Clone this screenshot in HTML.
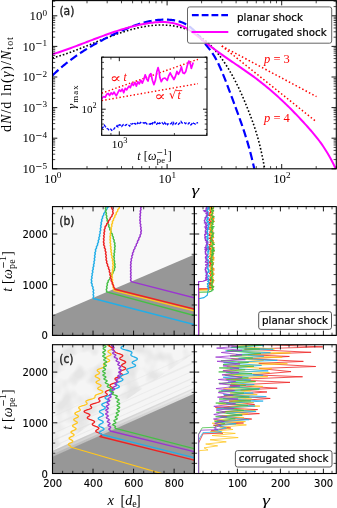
<!DOCTYPE html>
<html><head><meta charset="utf-8"><title>Particle spectra and trajectories</title>
<style>
html,body{margin:0;padding:0;background:#fff;}
body{width:337px;height:508px;overflow:hidden;}
svg{display:block;}
</style></head><body>
<svg width="337" height="508" viewBox="0 0 337 508">
<rect x="0" y="0" width="337" height="508" fill="#fff"/>

<g clip-path="url(#clipA)">
<defs><clipPath id="clipA"><rect x="52.5" y="0.6" width="283.8" height="168.20000000000002"/></clipPath></defs>
<line x1="221.8" y1="46" x2="316.5" y2="96.6" stroke="#ff0000" stroke-width="1.5" stroke-dasharray="1.5 2.3" />
<line x1="221.8" y1="46" x2="316.5" y2="121.9" stroke="#ff0000" stroke-width="1.5" stroke-dasharray="1.5 2.3" />
<polyline fill="none" stroke="#000" stroke-width="1.6" stroke-dasharray="1.6 2.0" points="52.5,58.06 53.57,57.76 54.63,57.45 55.7,57.14 56.77,56.82 57.83,56.49 58.9,56.16 59.97,55.82 61.03,55.48 62.1,55.13 63.17,54.77 64.24,54.41 65.3,54.04 66.37,53.67 67.44,53.29 68.5,52.91 69.57,52.53 70.64,52.14 71.7,51.74 72.77,51.34 73.84,50.94 74.9,50.54 75.97,50.13 77.04,49.72 78.1,49.3 79.17,48.89 80.24,48.47 81.3,48.05 82.37,47.62 83.44,47.2 84.51,46.77 85.57,46.34 86.64,45.91 87.71,45.48 88.77,45.05 89.84,44.62 90.91,44.19 91.97,43.76 93.04,43.33 94.11,42.89 95.17,42.46 96.24,42.03 97.31,41.6 98.37,41.17 99.44,40.74 100.51,40.32 101.57,39.89 102.64,39.47 103.71,39.05 104.77,38.63 105.84,38.22 106.91,37.8 107.98,37.39 109.04,36.99 110.11,36.58 111.18,36.18 112.24,35.78 113.31,35.39 114.38,35 115.44,34.62 116.51,34.24 117.58,33.86 118.64,33.49 119.71,33.13 120.78,32.77 121.84,32.41 122.91,32.06 123.98,31.72 125.04,31.38 126.11,31.05 127.18,30.73 128.25,30.41 129.31,30.1 130.38,29.8 131.45,29.5 132.51,29.21 133.58,28.93 134.65,28.66 135.71,28.4 136.78,28.14 137.85,27.89 138.91,27.65 139.98,27.43 141.05,27.2 142.11,26.99 143.18,26.79 144.25,26.6 145.31,26.42 146.38,26.25 147.45,26.08 148.52,25.93 149.58,25.79 150.65,25.67 151.72,25.55 152.78,25.44 153.85,25.35 154.92,25.26 155.98,25.19 157.05,25.13 158.12,25.09 159.18,25.05 160.25,25.03 161.32,25.02 162.38,25.03 163.45,25.05 164.52,25.08 165.58,25.13 166.65,25.19 167.72,25.26 168.78,25.35 169.85,25.46 170.92,25.57 171.99,25.71 173.05,25.86 174.12,26.02 175.19,26.2 176.25,26.4 177.32,26.62 178.39,26.85 179.45,27.11 180.52,27.38 181.59,27.68 182.65,27.99 183.72,28.32 184.79,28.68 185.85,29.06 186.92,29.46 187.99,29.89 189.05,30.34 190.12,30.81 191.19,31.31 192.26,31.83 193.32,32.38 194.39,32.96 195.46,33.57 196.52,34.2 197.59,34.86 198.66,35.55 199.72,36.27 200.79,37.02 201.86,37.8 202.92,38.61 203.99,39.45 205.06,40.33 206.12,41.24 207.19,42.18 208.26,43.15 209.32,44.16 210.39,45.21 211.46,46.29 212.53,47.41 213.59,48.56 214.66,49.75 215.73,50.98 216.79,52.25 217.86,53.56 218.93,54.91 219.99,56.29 221.06,57.72 222.13,59.19 223.19,60.7 224.26,62.26 225.33,63.85 226.39,65.5 227.46,67.19 228.53,68.92 229.59,70.7 230.66,72.53 231.73,74.41 232.79,76.34 233.86,78.32 234.93,80.35 236,82.44 237.06,84.57 238.13,86.76 239.2,89.01 240.26,91.31 241.33,93.67 242.4,96.08 243.46,98.55 244.53,101.07 245.6,103.64 246.66,106.26 247.73,108.92 248.8,111.62 249.86,114.37 250.93,117.15 252,120 253.06,122.95 254.13,126.01 255.2,129.23 256.27,132.62 257.33,136.21 258.4,140.04 259.47,144.12 260.53,148.5 261.6,153.19 262.67,158.22 263.73,163.62 264.8,169.43"/>
<polyline fill="none" stroke="#0000ff" stroke-width="2.2" stroke-dasharray="8.2 3.6" points="52.5,75.39 53.52,74.42 54.53,73.47 55.55,72.52 56.56,71.59 57.58,70.67 58.59,69.77 59.61,68.87 60.62,67.99 61.64,67.12 62.65,66.27 63.67,65.42 64.68,64.59 65.7,63.76 66.71,62.95 67.73,62.15 68.74,61.36 69.76,60.58 70.77,59.81 71.79,59.05 72.8,58.3 73.82,57.56 74.83,56.83 75.85,56.11 76.86,55.4 77.88,54.7 78.89,54.01 79.91,53.33 80.92,52.65 81.94,51.99 82.95,51.33 83.97,50.68 84.98,50.04 86,49.4 87.01,48.78 88.03,48.16 89.04,47.54 90.06,46.94 91.07,46.34 92.09,45.75 93.1,45.16 94.12,44.59 95.13,44.01 96.15,43.45 97.16,42.89 98.18,42.33 99.19,41.78 100.21,41.24 101.22,40.7 102.24,40.17 103.25,39.64 104.27,39.11 105.28,38.59 106.3,38.08 107.31,37.56 108.33,37.06 109.34,36.55 110.36,36.05 111.37,35.55 112.39,35.06 113.4,34.57 114.42,34.08 115.43,33.6 116.45,33.12 117.46,32.64 118.48,32.17 119.49,31.71 120.51,31.25 121.53,30.79 122.54,30.34 123.56,29.9 124.57,29.46 125.59,29.03 126.6,28.61 127.62,28.19 128.63,27.78 129.65,27.37 130.66,26.98 131.68,26.59 132.69,26.21 133.71,25.84 134.72,25.47 135.74,25.12 136.75,24.77 137.77,24.43 138.78,24.1 139.8,23.79 140.81,23.48 141.83,23.18 142.84,22.89 143.86,22.61 144.87,22.34 145.89,22.09 146.9,21.84 147.92,21.61 148.93,21.39 149.95,21.18 150.96,20.98 151.98,20.8 152.99,20.62 154.01,20.46 155.02,20.32 156.04,20.18 157.05,20.06 158.07,19.96 159.08,19.87 160.1,19.79 161.11,19.73 162.13,19.68 163.14,19.64 164.16,19.63 165.17,19.62 166.19,19.64 167.2,19.67 168.22,19.71 169.23,19.77 170.25,19.85 171.26,19.95 172.28,20.06 173.29,20.19 174.31,20.34 175.32,20.52 176.34,20.72 177.35,20.95 178.37,21.21 179.38,21.51 180.4,21.83 181.41,22.19 182.43,22.59 183.44,23.03 184.46,23.51 185.47,24.04 186.49,24.61 187.51,25.23 188.52,25.91 189.54,26.63 190.55,27.41 191.57,28.24 192.58,29.14 193.6,30.09 194.61,31.11 195.63,32.18 196.64,33.29 197.66,34.44 198.67,35.64 199.69,36.86 200.7,38.11 201.72,39.37 202.73,40.65 203.75,41.94 204.76,43.23 205.78,44.52 206.79,45.79 207.81,47.07 208.82,48.35 209.84,49.65 210.85,51 211.87,52.41 212.88,53.9 213.9,55.48 214.91,57.17 215.93,58.98 216.94,60.9 217.96,62.92 218.97,65.04 219.99,67.25 221,69.54 222.02,71.91 223.03,74.35 224.05,76.85 225.06,79.4 226.08,82.01 227.09,84.65 228.11,87.32 229.12,90.03 230.14,92.75 231.15,95.48 232.17,98.22 233.18,100.96 234.2,103.69 235.21,106.42 236.23,109.15 237.24,111.9 238.26,114.67 239.27,117.47 240.29,120.31 241.3,123.19 242.32,126.13 243.33,129.12 244.35,132.18 245.36,135.33 246.38,138.57 247.39,141.92 248.41,145.4 249.42,149.01 250.44,152.78 251.45,156.71 252.47,160.83 253.48,165.13 254.5,169.64"/>
<polyline fill="none" stroke="#ff00ff" stroke-width="2.0" points="52.5,54.25 53.93,53.81 55.35,53.36 56.78,52.9 58.2,52.43 59.63,51.96 61.06,51.48 62.48,50.99 63.91,50.5 65.34,50 66.76,49.49 68.19,48.98 69.61,48.46 71.04,47.94 72.47,47.42 73.89,46.89 75.32,46.36 76.74,45.83 78.17,45.29 79.6,44.75 81.02,44.21 82.45,43.67 83.87,43.12 85.3,42.58 86.73,42.03 88.15,41.49 89.58,40.94 91.01,40.4 92.43,39.85 93.86,39.31 95.28,38.77 96.71,38.23 98.14,37.69 99.56,37.16 100.99,36.63 102.41,36.1 103.84,35.58 105.27,35.06 106.69,34.54 108.12,34.03 109.55,33.53 110.97,33.03 112.4,32.54 113.82,32.05 115.25,31.57 116.68,31.1 118.1,30.63 119.53,30.18 120.95,29.73 122.38,29.29 123.81,28.86 125.23,28.43 126.66,28.02 128.08,27.62 129.51,27.22 130.94,26.84 132.36,26.47 133.79,26.11 135.22,25.77 136.64,25.43 138.07,25.11 139.49,24.8 140.92,24.5 142.35,24.22 143.77,23.95 145.2,23.69 146.62,23.45 148.05,23.23 149.48,23.02 150.9,22.83 152.33,22.65 153.76,22.49 155.18,22.35 156.61,22.24 158.03,22.14 159.46,22.08 160.89,22.04 162.31,22.03 163.74,22.06 165.16,22.11 166.59,22.21 168.02,22.34 169.44,22.51 170.87,22.72 172.29,22.97 173.72,23.27 175.15,23.61 176.57,24.01 178,24.45 179.43,24.95 180.85,25.5 182.28,26.11 183.7,26.77 185.13,27.5 186.56,28.28 187.98,29.13 189.41,30.05 190.83,31.02 192.26,32.04 193.69,33.09 195.11,34.18 196.54,35.3 197.97,36.43 199.39,37.57 200.82,38.71 202.24,39.84 203.67,40.97 205.1,42.09 206.52,43.2 207.95,44.31 209.37,45.4 210.8,46.5 212.23,47.58 213.65,48.65 215.08,49.72 216.51,50.77 217.93,51.82 219.36,52.86 220.78,53.88 222.21,54.9 223.64,55.91 225.06,56.91 226.49,57.9 227.91,58.89 229.34,59.87 230.77,60.84 232.19,61.82 233.62,62.79 235.04,63.76 236.47,64.73 237.9,65.7 239.32,66.67 240.75,67.64 242.18,68.62 243.6,69.6 245.03,70.59 246.45,71.58 247.88,72.58 249.31,73.59 250.73,74.61 252.16,75.64 253.58,76.68 255.01,77.73 256.44,78.8 257.86,79.88 259.29,80.98 260.72,82.09 262.14,83.21 263.57,84.35 264.99,85.51 266.42,86.68 267.85,87.86 269.27,89.06 270.7,90.28 272.12,91.51 273.55,92.75 274.98,94.01 276.4,95.28 277.83,96.57 279.25,97.88 280.68,99.19 282.11,100.53 283.53,101.87 284.96,103.24 286.39,104.61 287.81,106.01 289.24,107.41 290.66,108.83 292.09,110.27 293.52,111.72 294.94,113.19 296.37,114.67 297.79,116.16 299.22,117.67 300.65,119.19 302.07,120.73 303.5,122.29 304.93,123.85 306.35,125.44 307.78,127.03 309.2,128.65 310.63,130.27 312.06,131.93 313.48,133.61 314.91,135.32 316.33,137.09 317.76,138.9 319.19,140.76 320.61,142.7 322.04,144.7 323.46,146.77 324.89,148.94 326.32,151.19 327.74,153.53 329.17,155.99 330.6,158.55 332.02,161.23 333.45,164.03 334.87,166.96 336.3,170.03"/>
</g>
<text x="264" y="62.9" font-family="'Liberation Serif', 'DejaVu Serif', serif" font-size="12.5" fill="#ff0000"><tspan font-style="italic">p</tspan> = 3</text>
<text x="264" y="122.4" font-family="'Liberation Serif', 'DejaVu Serif', serif" font-size="12.5" fill="#ff0000"><tspan font-style="italic">p</tspan> = 4</text>
<g stroke="#000" fill="none">
<line x1="52.5" y1="168.8" x2="52.5" y2="164" stroke-width="0.9"/>
<line x1="52.5" y1="0.6" x2="52.5" y2="5.4" stroke-width="0.9"/>
<line x1="87" y1="168.8" x2="87" y2="166.1" stroke-width="0.72"/>
<line x1="87" y1="0.6" x2="87" y2="3.3" stroke-width="0.72"/>
<line x1="107.18" y1="168.8" x2="107.18" y2="166.1" stroke-width="0.72"/>
<line x1="107.18" y1="0.6" x2="107.18" y2="3.3" stroke-width="0.72"/>
<line x1="121.5" y1="168.8" x2="121.5" y2="166.1" stroke-width="0.72"/>
<line x1="121.5" y1="0.6" x2="121.5" y2="3.3" stroke-width="0.72"/>
<line x1="132.6" y1="168.8" x2="132.6" y2="166.1" stroke-width="0.72"/>
<line x1="132.6" y1="0.6" x2="132.6" y2="3.3" stroke-width="0.72"/>
<line x1="141.68" y1="168.8" x2="141.68" y2="166.1" stroke-width="0.72"/>
<line x1="141.68" y1="0.6" x2="141.68" y2="3.3" stroke-width="0.72"/>
<line x1="149.35" y1="168.8" x2="149.35" y2="166.1" stroke-width="0.72"/>
<line x1="149.35" y1="0.6" x2="149.35" y2="3.3" stroke-width="0.72"/>
<line x1="155.99" y1="168.8" x2="155.99" y2="166.1" stroke-width="0.72"/>
<line x1="155.99" y1="0.6" x2="155.99" y2="3.3" stroke-width="0.72"/>
<line x1="161.86" y1="168.8" x2="161.86" y2="166.1" stroke-width="0.72"/>
<line x1="161.86" y1="0.6" x2="161.86" y2="3.3" stroke-width="0.72"/>
<line x1="167.1" y1="168.8" x2="167.1" y2="164" stroke-width="0.9"/>
<line x1="167.1" y1="0.6" x2="167.1" y2="5.4" stroke-width="0.9"/>
<line x1="201.6" y1="168.8" x2="201.6" y2="166.1" stroke-width="0.72"/>
<line x1="201.6" y1="0.6" x2="201.6" y2="3.3" stroke-width="0.72"/>
<line x1="221.78" y1="168.8" x2="221.78" y2="166.1" stroke-width="0.72"/>
<line x1="221.78" y1="0.6" x2="221.78" y2="3.3" stroke-width="0.72"/>
<line x1="236.1" y1="168.8" x2="236.1" y2="166.1" stroke-width="0.72"/>
<line x1="236.1" y1="0.6" x2="236.1" y2="3.3" stroke-width="0.72"/>
<line x1="247.2" y1="168.8" x2="247.2" y2="166.1" stroke-width="0.72"/>
<line x1="247.2" y1="0.6" x2="247.2" y2="3.3" stroke-width="0.72"/>
<line x1="256.28" y1="168.8" x2="256.28" y2="166.1" stroke-width="0.72"/>
<line x1="256.28" y1="0.6" x2="256.28" y2="3.3" stroke-width="0.72"/>
<line x1="263.95" y1="168.8" x2="263.95" y2="166.1" stroke-width="0.72"/>
<line x1="263.95" y1="0.6" x2="263.95" y2="3.3" stroke-width="0.72"/>
<line x1="270.59" y1="168.8" x2="270.59" y2="166.1" stroke-width="0.72"/>
<line x1="270.59" y1="0.6" x2="270.59" y2="3.3" stroke-width="0.72"/>
<line x1="276.46" y1="168.8" x2="276.46" y2="166.1" stroke-width="0.72"/>
<line x1="276.46" y1="0.6" x2="276.46" y2="3.3" stroke-width="0.72"/>
<line x1="281.7" y1="168.8" x2="281.7" y2="164" stroke-width="0.9"/>
<line x1="281.7" y1="0.6" x2="281.7" y2="5.4" stroke-width="0.9"/>
<line x1="316.2" y1="168.8" x2="316.2" y2="166.1" stroke-width="0.72"/>
<line x1="316.2" y1="0.6" x2="316.2" y2="3.3" stroke-width="0.72"/>
<line x1="336.38" y1="168.8" x2="336.38" y2="166.1" stroke-width="0.72"/>
<line x1="336.38" y1="0.6" x2="336.38" y2="3.3" stroke-width="0.72"/>
<line x1="52.5" y1="168.8" x2="57.3" y2="168.8" stroke-width="0.9"/>
<line x1="336.3" y1="168.8" x2="331.5" y2="168.8" stroke-width="0.9"/>
<line x1="52.5" y1="159.59" x2="55.2" y2="159.59" stroke-width="0.72"/>
<line x1="336.3" y1="159.59" x2="333.6" y2="159.59" stroke-width="0.72"/>
<line x1="52.5" y1="154.2" x2="55.2" y2="154.2" stroke-width="0.72"/>
<line x1="336.3" y1="154.2" x2="333.6" y2="154.2" stroke-width="0.72"/>
<line x1="52.5" y1="150.38" x2="55.2" y2="150.38" stroke-width="0.72"/>
<line x1="336.3" y1="150.38" x2="333.6" y2="150.38" stroke-width="0.72"/>
<line x1="52.5" y1="147.41" x2="55.2" y2="147.41" stroke-width="0.72"/>
<line x1="336.3" y1="147.41" x2="333.6" y2="147.41" stroke-width="0.72"/>
<line x1="52.5" y1="144.99" x2="55.2" y2="144.99" stroke-width="0.72"/>
<line x1="336.3" y1="144.99" x2="333.6" y2="144.99" stroke-width="0.72"/>
<line x1="52.5" y1="142.94" x2="55.2" y2="142.94" stroke-width="0.72"/>
<line x1="336.3" y1="142.94" x2="333.6" y2="142.94" stroke-width="0.72"/>
<line x1="52.5" y1="141.17" x2="55.2" y2="141.17" stroke-width="0.72"/>
<line x1="336.3" y1="141.17" x2="333.6" y2="141.17" stroke-width="0.72"/>
<line x1="52.5" y1="139.6" x2="55.2" y2="139.6" stroke-width="0.72"/>
<line x1="336.3" y1="139.6" x2="333.6" y2="139.6" stroke-width="0.72"/>
<line x1="52.5" y1="138.2" x2="57.3" y2="138.2" stroke-width="0.9"/>
<line x1="336.3" y1="138.2" x2="331.5" y2="138.2" stroke-width="0.9"/>
<line x1="52.5" y1="128.99" x2="55.2" y2="128.99" stroke-width="0.72"/>
<line x1="336.3" y1="128.99" x2="333.6" y2="128.99" stroke-width="0.72"/>
<line x1="52.5" y1="123.6" x2="55.2" y2="123.6" stroke-width="0.72"/>
<line x1="336.3" y1="123.6" x2="333.6" y2="123.6" stroke-width="0.72"/>
<line x1="52.5" y1="119.78" x2="55.2" y2="119.78" stroke-width="0.72"/>
<line x1="336.3" y1="119.78" x2="333.6" y2="119.78" stroke-width="0.72"/>
<line x1="52.5" y1="116.81" x2="55.2" y2="116.81" stroke-width="0.72"/>
<line x1="336.3" y1="116.81" x2="333.6" y2="116.81" stroke-width="0.72"/>
<line x1="52.5" y1="114.39" x2="55.2" y2="114.39" stroke-width="0.72"/>
<line x1="336.3" y1="114.39" x2="333.6" y2="114.39" stroke-width="0.72"/>
<line x1="52.5" y1="112.34" x2="55.2" y2="112.34" stroke-width="0.72"/>
<line x1="336.3" y1="112.34" x2="333.6" y2="112.34" stroke-width="0.72"/>
<line x1="52.5" y1="110.57" x2="55.2" y2="110.57" stroke-width="0.72"/>
<line x1="336.3" y1="110.57" x2="333.6" y2="110.57" stroke-width="0.72"/>
<line x1="52.5" y1="109" x2="55.2" y2="109" stroke-width="0.72"/>
<line x1="336.3" y1="109" x2="333.6" y2="109" stroke-width="0.72"/>
<line x1="52.5" y1="107.6" x2="57.3" y2="107.6" stroke-width="0.9"/>
<line x1="336.3" y1="107.6" x2="331.5" y2="107.6" stroke-width="0.9"/>
<line x1="52.5" y1="98.39" x2="55.2" y2="98.39" stroke-width="0.72"/>
<line x1="336.3" y1="98.39" x2="333.6" y2="98.39" stroke-width="0.72"/>
<line x1="52.5" y1="93" x2="55.2" y2="93" stroke-width="0.72"/>
<line x1="336.3" y1="93" x2="333.6" y2="93" stroke-width="0.72"/>
<line x1="52.5" y1="89.18" x2="55.2" y2="89.18" stroke-width="0.72"/>
<line x1="336.3" y1="89.18" x2="333.6" y2="89.18" stroke-width="0.72"/>
<line x1="52.5" y1="86.21" x2="55.2" y2="86.21" stroke-width="0.72"/>
<line x1="336.3" y1="86.21" x2="333.6" y2="86.21" stroke-width="0.72"/>
<line x1="52.5" y1="83.79" x2="55.2" y2="83.79" stroke-width="0.72"/>
<line x1="336.3" y1="83.79" x2="333.6" y2="83.79" stroke-width="0.72"/>
<line x1="52.5" y1="81.74" x2="55.2" y2="81.74" stroke-width="0.72"/>
<line x1="336.3" y1="81.74" x2="333.6" y2="81.74" stroke-width="0.72"/>
<line x1="52.5" y1="79.97" x2="55.2" y2="79.97" stroke-width="0.72"/>
<line x1="336.3" y1="79.97" x2="333.6" y2="79.97" stroke-width="0.72"/>
<line x1="52.5" y1="78.4" x2="55.2" y2="78.4" stroke-width="0.72"/>
<line x1="336.3" y1="78.4" x2="333.6" y2="78.4" stroke-width="0.72"/>
<line x1="52.5" y1="77" x2="57.3" y2="77" stroke-width="0.9"/>
<line x1="336.3" y1="77" x2="331.5" y2="77" stroke-width="0.9"/>
<line x1="52.5" y1="67.79" x2="55.2" y2="67.79" stroke-width="0.72"/>
<line x1="336.3" y1="67.79" x2="333.6" y2="67.79" stroke-width="0.72"/>
<line x1="52.5" y1="62.4" x2="55.2" y2="62.4" stroke-width="0.72"/>
<line x1="336.3" y1="62.4" x2="333.6" y2="62.4" stroke-width="0.72"/>
<line x1="52.5" y1="58.58" x2="55.2" y2="58.58" stroke-width="0.72"/>
<line x1="336.3" y1="58.58" x2="333.6" y2="58.58" stroke-width="0.72"/>
<line x1="52.5" y1="55.61" x2="55.2" y2="55.61" stroke-width="0.72"/>
<line x1="336.3" y1="55.61" x2="333.6" y2="55.61" stroke-width="0.72"/>
<line x1="52.5" y1="53.19" x2="55.2" y2="53.19" stroke-width="0.72"/>
<line x1="336.3" y1="53.19" x2="333.6" y2="53.19" stroke-width="0.72"/>
<line x1="52.5" y1="51.14" x2="55.2" y2="51.14" stroke-width="0.72"/>
<line x1="336.3" y1="51.14" x2="333.6" y2="51.14" stroke-width="0.72"/>
<line x1="52.5" y1="49.37" x2="55.2" y2="49.37" stroke-width="0.72"/>
<line x1="336.3" y1="49.37" x2="333.6" y2="49.37" stroke-width="0.72"/>
<line x1="52.5" y1="47.8" x2="55.2" y2="47.8" stroke-width="0.72"/>
<line x1="336.3" y1="47.8" x2="333.6" y2="47.8" stroke-width="0.72"/>
<line x1="52.5" y1="46.4" x2="57.3" y2="46.4" stroke-width="0.9"/>
<line x1="336.3" y1="46.4" x2="331.5" y2="46.4" stroke-width="0.9"/>
<line x1="52.5" y1="37.19" x2="55.2" y2="37.19" stroke-width="0.72"/>
<line x1="336.3" y1="37.19" x2="333.6" y2="37.19" stroke-width="0.72"/>
<line x1="52.5" y1="31.8" x2="55.2" y2="31.8" stroke-width="0.72"/>
<line x1="336.3" y1="31.8" x2="333.6" y2="31.8" stroke-width="0.72"/>
<line x1="52.5" y1="27.98" x2="55.2" y2="27.98" stroke-width="0.72"/>
<line x1="336.3" y1="27.98" x2="333.6" y2="27.98" stroke-width="0.72"/>
<line x1="52.5" y1="25.01" x2="55.2" y2="25.01" stroke-width="0.72"/>
<line x1="336.3" y1="25.01" x2="333.6" y2="25.01" stroke-width="0.72"/>
<line x1="52.5" y1="22.59" x2="55.2" y2="22.59" stroke-width="0.72"/>
<line x1="336.3" y1="22.59" x2="333.6" y2="22.59" stroke-width="0.72"/>
<line x1="52.5" y1="20.54" x2="55.2" y2="20.54" stroke-width="0.72"/>
<line x1="336.3" y1="20.54" x2="333.6" y2="20.54" stroke-width="0.72"/>
<line x1="52.5" y1="18.77" x2="55.2" y2="18.77" stroke-width="0.72"/>
<line x1="336.3" y1="18.77" x2="333.6" y2="18.77" stroke-width="0.72"/>
<line x1="52.5" y1="17.2" x2="55.2" y2="17.2" stroke-width="0.72"/>
<line x1="336.3" y1="17.2" x2="333.6" y2="17.2" stroke-width="0.72"/>
<line x1="52.5" y1="15.8" x2="57.3" y2="15.8" stroke-width="0.9"/>
<line x1="336.3" y1="15.8" x2="331.5" y2="15.8" stroke-width="0.9"/>
<line x1="52.5" y1="6.59" x2="55.2" y2="6.59" stroke-width="0.72"/>
<line x1="336.3" y1="6.59" x2="333.6" y2="6.59" stroke-width="0.72"/>
<line x1="52.5" y1="1.2" x2="55.2" y2="1.2" stroke-width="0.72"/>
<line x1="336.3" y1="1.2" x2="333.6" y2="1.2" stroke-width="0.72"/>
<rect x="52.5" y="0.6" width="283.8" height="168.2" stroke-width="1.1"/>
</g>
<rect x="187.5" y="6.9" width="144.2" height="36.3" rx="2.2" fill="#fff" fill-opacity="0.8" stroke="#555" stroke-width="0.9"/>
<line x1="191.9" y1="15.2" x2="228" y2="15.2" stroke="#0000ff" stroke-width="2.2" stroke-dasharray="6.8 3"/>
<line x1="191.5" y1="32" x2="228.3" y2="32" stroke="#ff00ff" stroke-width="1.9"/>
<text x="237" y="20.5" font-family="'DejaVu Sans', 'Liberation Sans', sans-serif" font-size="10.3" fill="#000" stroke="#000" stroke-width="0.2">planar shock</text>
<text x="237" y="36.4" font-family="'DejaVu Sans', 'Liberation Sans', sans-serif" font-size="10.3" fill="#000" stroke="#000" stroke-width="0.2">corrugated shock</text>
<text transform="translate(59.4,15.4) scale(0.9,1)" font-family="'DejaVu Sans', 'Liberation Sans', sans-serif" font-size="12" fill="#222" stroke="#222" stroke-width="0.35">(a)</text>
<text x="47" y="20" font-family="'Liberation Serif', 'DejaVu Serif', serif" font-size="12.8" text-anchor="end" fill="#000">10<tspan font-size="9.2" dy="-4.5">0</tspan></text>
<text x="47" y="50.6" font-family="'Liberation Serif', 'DejaVu Serif', serif" font-size="12.8" text-anchor="end" fill="#000">10<tspan font-size="9.2" dy="-4.5"><tspan font-family="DejaVu Sans, sans-serif" font-size="8.6">−</tspan>1</tspan></text>
<text x="47" y="81.2" font-family="'Liberation Serif', 'DejaVu Serif', serif" font-size="12.8" text-anchor="end" fill="#000">10<tspan font-size="9.2" dy="-4.5"><tspan font-family="DejaVu Sans, sans-serif" font-size="8.6">−</tspan>2</tspan></text>
<text x="47" y="111.8" font-family="'Liberation Serif', 'DejaVu Serif', serif" font-size="12.8" text-anchor="end" fill="#000">10<tspan font-size="9.2" dy="-4.5"><tspan font-family="DejaVu Sans, sans-serif" font-size="8.6">−</tspan>3</tspan></text>
<text x="47" y="142.4" font-family="'Liberation Serif', 'DejaVu Serif', serif" font-size="12.8" text-anchor="end" fill="#000">10<tspan font-size="9.2" dy="-4.5"><tspan font-family="DejaVu Sans, sans-serif" font-size="8.6">−</tspan>4</tspan></text>
<text x="47" y="173" font-family="'Liberation Serif', 'DejaVu Serif', serif" font-size="12.8" text-anchor="end" fill="#000">10<tspan font-size="9.2" dy="-4.5"><tspan font-family="DejaVu Sans, sans-serif" font-size="8.6">−</tspan>5</tspan></text>
<text x="52.7" y="182.8" font-family="'Liberation Serif', 'DejaVu Serif', serif" font-size="12.8" text-anchor="middle" fill="#000">10<tspan font-size="9.2" dy="-4.5">0</tspan></text>
<text x="167.3" y="182.8" font-family="'Liberation Serif', 'DejaVu Serif', serif" font-size="12.8" text-anchor="middle" fill="#000">10<tspan font-size="9.2" dy="-4.5">1</tspan></text>
<text x="281.9" y="182.8" font-family="'Liberation Serif', 'DejaVu Serif', serif" font-size="12.8" text-anchor="middle" fill="#000">10<tspan font-size="9.2" dy="-4.5">2</tspan></text>
<text transform="translate(195.3,194.8) scale(1.4,1)" font-family="'Liberation Serif', 'DejaVu Serif', serif" font-size="14" font-style="italic" text-anchor="middle">γ</text>
<text transform="translate(10.6,84.6) rotate(-90)" font-family="'Liberation Serif', 'DejaVu Serif', serif" font-size="14.2" text-anchor="middle" textLength="95" lengthAdjust="spacing">d<tspan font-style="italic">N</tspan>/d ln(<tspan font-style="italic">γ</tspan>)/<tspan font-style="italic">N</tspan><tspan font-size="10" dy="2.8">tot</tspan></text>
<rect x="101.7" y="57.2" width="105.3" height="78.1" fill="#fff"/>
<g clip-path="url(#clipI)">
<defs><clipPath id="clipI"><rect x="101.7" y="57.2" width="105.3" height="78.1"/></clipPath></defs>
<line x1="101.7" y1="93.2" x2="198" y2="59.3" stroke="#ff0000" stroke-width="1.4" stroke-dasharray="1.4 2.2"/>
<line x1="101.7" y1="100.6" x2="198" y2="83.65" stroke="#ff0000" stroke-width="1.4" stroke-dasharray="1.4 2.2"/>
<polyline fill="none" stroke="#ff00ff" stroke-width="1.7" stroke-linejoin="round" points="101.8,99.2 102.2,98 103.7,96.5 105.2,97.3 106.7,94.3 108.2,93.5 109.6,95.5 111.1,92.8 112.6,94.3 114.1,92.1 114.8,93.5 116.3,95.8 117.8,92.8 119.3,89.8 120.8,91.3 122.3,89.1 123.7,92.8 125.2,88.4 126.7,89.8 128.9,86.1 130.4,87.6 131.9,83.2 133.4,85.4 134.9,82.4 136.4,86.1 137.8,81.7 139.3,83.9 140.8,80.2 142.3,83.2 143.8,79.5 145.2,74.8 146.5,78.8 148,81 149.5,75.1 150.9,73.6 152.4,80.3 153.9,84.7 155.4,80.3 156.9,71.4 158.1,67.6 159.1,71.4 159.8,77.3 161.3,81.7 162.8,78.8 165,78 167.3,80.3 168.7,75.8 170.2,72.8 171.7,75.8 173.9,79.5 175.4,76.5 176.9,71.4 178.4,74.3 179.9,71.4 181.4,66.9 182.8,72.8 184.3,73.6 185.8,71.4 187.3,65.4 188.8,61 190.3,63.9 191.3,68.4 192.5,64.7 193.2,62.5"/>
<polyline fill="none" stroke="#0000ff" stroke-width="1.3" stroke-dasharray="3 1.2" points="101.8,129.02 102.7,127.34 103.6,126.76 104.5,125.3 105.4,126.61 106.3,127.53 107.2,128.59 108.1,128.94 109,129.95 109.9,129.86 110.8,129.12 111.7,130.29 112.6,129.8 113.5,129.84 114.4,128.18 115.3,127.42 116.2,126.83 117.1,125.62 118,126.93 118.9,125.11 119.8,124.83 120.7,125.37 121.6,126.43 122.5,125.45 123.4,124.47 124.3,124.61 125.2,125.47 126.1,124.85 127,124.35 127.9,124.66 128.8,125.27 129.7,126.06 130.6,123.72 131.5,124.06 132.4,123.85 133.3,122.63 134.2,123.58 135.1,123.42 136,124.83 136.9,123.86 137.8,122.73 138.7,124.23 139.6,123.45 140.5,122.4 141.4,123.12 142.3,123.06 143.2,122.8 144.1,123.37 145,121.73 145.9,123.08 146.8,123.94 147.7,123.81 148.6,123.98 149.5,123.98 150.4,124.24 151.3,122.43 152.2,123.81 153.1,121.92 154,122.81 154.9,121.91 155.8,124 156.7,124.21 157.6,123.15 158.5,124.55 159.4,122.85 160.3,123.44 161.2,123.46 162.1,122.62 163,123.68 163.9,124.74 164.8,122.68 165.7,124.03 166.6,123.3 167.5,124.66 168.4,123.76 169.3,123.91 170.2,123.89 171.1,123.62 172,122.48 172.9,124.44 173.8,122.51 174.7,123.64 175.6,123.91 176.5,122.9 177.4,123.59 178.3,124.31 179.2,123.48 180.1,122.88 181,121.46 181.9,122.82 182.8,123.08 183.7,123.13 184.6,122.82 185.5,123.74 186.4,123.07 187.3,123.38 188.2,123.92 189.1,122.83 190,123.2 190.9,124.9 191.8,123.98 192.7,122.44 193.6,123.27 194.5,123.7 195.4,124.14 196.3,123.36 197.2,122.85 198.1,122.69"/>
</g>
<text transform="translate(109.9,82.6) scale(1.18,1)" font-family="DejaVu Serif, serif" font-size="14" fill="#ff0000">∝</text>
<text x="123.6" y="80.6" font-family="'Liberation Serif', 'DejaVu Serif', serif" font-style="italic" font-size="11.5" fill="#ff0000">t</text>
<text transform="translate(154.4,100.8) scale(1.18,1)" font-family="DejaVu Serif, serif" font-size="14" fill="#ff0000">∝</text>
<text x="169" y="99.2" font-family="DejaVu Sans, sans-serif" font-size="11.5" fill="#ff0000">√</text>
<text x="177.4" y="98.7" font-family="'Liberation Serif', 'DejaVu Serif', serif" font-style="italic" font-size="11.5" fill="#ff0000">t</text>
<line x1="175.6" y1="90.6" x2="182.2" y2="90.6" stroke="#ff0000" stroke-width="0.8"/>
<g stroke="#000" fill="none">
<line x1="101.57" y1="135.3" x2="101.57" y2="133" stroke-width="0.72"/>
<line x1="101.57" y1="57.2" x2="101.57" y2="59.5" stroke-width="0.72"/>
<line x1="110.93" y1="135.3" x2="110.93" y2="133" stroke-width="0.72"/>
<line x1="110.93" y1="57.2" x2="110.93" y2="59.5" stroke-width="0.72"/>
<line x1="119.3" y1="135.3" x2="119.3" y2="131.3" stroke-width="0.9"/>
<line x1="119.3" y1="57.2" x2="119.3" y2="61.2" stroke-width="0.9"/>
<line x1="174.39" y1="135.3" x2="174.39" y2="133" stroke-width="0.72"/>
<line x1="174.39" y1="57.2" x2="174.39" y2="59.5" stroke-width="0.72"/>
<line x1="206.61" y1="135.3" x2="206.61" y2="133" stroke-width="0.72"/>
<line x1="206.61" y1="57.2" x2="206.61" y2="59.5" stroke-width="0.72"/>
<line x1="101.7" y1="129.37" x2="104" y2="129.37" stroke-width="0.72"/>
<line x1="207" y1="129.37" x2="204.7" y2="129.37" stroke-width="0.72"/>
<line x1="101.7" y1="124.06" x2="104" y2="124.06" stroke-width="0.72"/>
<line x1="207" y1="124.06" x2="204.7" y2="124.06" stroke-width="0.72"/>
<line x1="101.7" y1="119.58" x2="104" y2="119.58" stroke-width="0.72"/>
<line x1="207" y1="119.58" x2="204.7" y2="119.58" stroke-width="0.72"/>
<line x1="101.7" y1="115.69" x2="104" y2="115.69" stroke-width="0.72"/>
<line x1="207" y1="115.69" x2="204.7" y2="115.69" stroke-width="0.72"/>
<line x1="101.7" y1="112.27" x2="104" y2="112.27" stroke-width="0.72"/>
<line x1="207" y1="112.27" x2="204.7" y2="112.27" stroke-width="0.72"/>
<line x1="101.7" y1="109.2" x2="105.7" y2="109.2" stroke-width="0.9"/>
<line x1="207" y1="109.2" x2="203" y2="109.2" stroke-width="0.9"/>
<line x1="101.7" y1="89.03" x2="104" y2="89.03" stroke-width="0.72"/>
<line x1="207" y1="89.03" x2="204.7" y2="89.03" stroke-width="0.72"/>
<line x1="101.7" y1="77.23" x2="104" y2="77.23" stroke-width="0.72"/>
<line x1="207" y1="77.23" x2="204.7" y2="77.23" stroke-width="0.72"/>
<line x1="101.7" y1="68.86" x2="104" y2="68.86" stroke-width="0.72"/>
<line x1="207" y1="68.86" x2="204.7" y2="68.86" stroke-width="0.72"/>
<line x1="101.7" y1="62.37" x2="104" y2="62.37" stroke-width="0.72"/>
<line x1="207" y1="62.37" x2="204.7" y2="62.37" stroke-width="0.72"/>
<line x1="101.7" y1="57.06" x2="104" y2="57.06" stroke-width="0.72"/>
<line x1="207" y1="57.06" x2="204.7" y2="57.06" stroke-width="0.72"/>
<rect x="101.7" y="57.2" width="105.3" height="78.1" stroke-width="1.1"/>
</g>
<text x="96.6" y="112.6" font-family="'Liberation Serif', 'DejaVu Serif', serif" font-size="11" text-anchor="end" fill="#000">10<tspan font-size="8.2" dy="-4.4">2</tspan></text>
<text x="119.6" y="147.6" font-family="'Liberation Serif', 'DejaVu Serif', serif" font-size="11.3" text-anchor="middle" fill="#000">10<tspan font-size="8.4" dy="-4.4">3</tspan></text>
<text x="154.4" y="160" font-family="'Liberation Serif', 'DejaVu Serif', serif" font-size="12" text-anchor="middle" textLength="34.5" lengthAdjust="spacing"><tspan font-style="italic">t</tspan> [<tspan font-style="italic">ω</tspan><tspan font-size="8.6" dy="2.9">pe</tspan><tspan font-size="8.6" dy="-7.9" dx="-8.8"><tspan font-family="DejaVu Sans, sans-serif" font-size="7.8">−</tspan>1</tspan><tspan dy="5">]</tspan></text>
<text transform="translate(76.0,97.6) rotate(-90)" font-family="'Liberation Serif', 'DejaVu Serif', serif" font-size="12.6" text-anchor="middle" textLength="24.5" lengthAdjust="spacing"><tspan font-style="italic" font-family="DejaVu Serif, serif" font-size="10.2">γ</tspan><tspan font-size="8.8" dy="2.2">max</tspan></text>
<defs><clipPath id="clipLb"><rect x="52.5" y="206.6" width="141.9" height="128.8"/></clipPath></defs>
<g clip-path="url(#clipLb)">
<rect x="52.5" y="206.6" width="141.9" height="128.8" fill="#f8f8f8"/>
<polygon points="51.5,315.72 195.4,254.18 195.4,336.4 51.5,336.4" fill="#979797"/>
</g>
<g clip-path="url(#clipLb)"><polyline fill="none" stroke="#22aee8" stroke-width="1.45" stroke-linejoin="round" points="109.65,205.6 109.24,206.3 108.23,207 107.37,207.7 107.15,208.4 106.94,209.1 106.15,209.8 105.32,210.5 105.14,211.2 105.21,211.9 104.74,212.6 103.93,213.3 103.62,214 103.77,214.7 103.56,215.4 102.83,216.1 102.39,216.8 102.57,217.5 102.61,218.2 102.05,218.9 101.54,219.6 101.68,220.3 101.94,221 101.61,221.7 101.05,222.4 101.06,223.1 101.42,223.8 101.31,224.5 100.76,225.2 100.6,225.9 100.97,226.6 101.06,227.3 100.57,228 100.23,228.7 100.51,229.4 100.76,230.1 100.38,230.8 99.89,231.5 100,232.2 100.33,232.9 100.09,233.6 99.51,234.3 99.4,235 99.74,235.7 99.69,236.4 99.1,237.1 98.79,237.8 99.06,238.5 99.17,239.2 98.66,239.9 98.17,240.6 98.3,241.3 98.53,242 98.15,242.7 97.52,243.4 97.42,244.1 97.66,244.8 97.4,245.5 96.69,246.2 96.36,246.9 96.56,247.6 96.5,248.3 95.86,249 95.4,249.7 95.58,250.4 95.76,251.1 95.34,251.8 94.85,252.5 94.96,253.2 95.32,253.9 95.13,254.6 94.6,255.3 94.55,256 94.95,256.7 94.97,257.4 94.46,258.1 94.22,258.8 94.57,259.5 94.75,260.2 94.31,260.9 93.88,261.6 94.08,262.3 94.37,263 94.05,263.7 93.49,264.4 93.49,265.1 93.83,265.8 93.69,266.5 93.1,267.2 92.89,267.9 93.22,268.6 93.28,269.3 92.75,270 92.38,270.7 92.64,271.4 92.88,272.1 92.49,272.8 92,273.5 92.11,274.2 92.45,274.9 92.23,275.6 91.67,276.3 91.59,277 91.98,277.7 91.98,278.4 91.46,279.1 91.23,279.8 91.61,280.5 91.85,281.2 91.49,281.9 91.21,282.6 91.6,283.3 92.15,284 92.11,284.7 91.87,285.4 92.19,286.1 92.87,286.8 93.06,287.5 92.78,288.2 92.86,288.9 93.44,289.6 93.7,290.3 93.31,291 93.05,291.7 93.41,292.4 93.75,293.1 93.46,293.8 93.06,294.5 93.27,295.2 93.71,295.9 93.59,296.6 93.13,297.3 93.15,298 93.4,298.5 195.4,324.75"/>
<polyline fill="none" stroke="#45bf45" stroke-width="1.45" stroke-linejoin="round" points="105.23,205.6 105.54,206.3 105.94,207 105.75,207.7 105.35,208.4 105.52,209.1 106.04,209.8 106.06,210.5 105.66,211.2 105.67,211.9 106.2,212.6 106.44,213.3 106.11,214 105.95,214.7 106.42,215.4 106.84,216.1 106.64,216.8 106.36,217.5 106.71,218.2 107.29,218.9 107.31,219.6 107.01,220.3 107.21,221 107.86,221.7 108.11,222.4 107.85,223.1 107.89,223.8 108.52,224.5 108.97,225.2 108.82,225.9 108.7,226.6 109.22,227.3 109.84,228 109.87,228.7 109.71,229.4 110.13,230.1 110.89,230.8 111.17,231.5 111.01,232.2 111.26,232.9 112.02,233.6 112.47,234.3 112.32,235 112.32,235.7 112.91,236.4 113.43,237.1 113.32,237.8 113.13,238.5 113.55,239.2 114.18,239.9 114.23,240.6 113.95,241.3 114.15,242 114.76,242.7 114.95,243.4 114.6,244.1 114.52,244.8 114.98,245.5 115.24,246.2 114.86,246.9 114.51,247.6 114.76,248.3 115.09,249 114.8,249.7 114.29,250.4 114.34,251.1 114.71,251.8 114.6,252.5 114.05,253.2 113.91,253.9 114.3,254.6 114.4,255.3 113.94,256 113.66,256.7 114.03,257.4 114.37,258.1 114.11,258.8 113.79,259.5 114.09,260.2 114.61,260.9 114.58,261.6 114.22,262.3 114.35,263 114.91,263.7 115.05,264.4 114.67,265.1 114.55,265.8 115,266.5 115.23,267.2 114.77,267.9 114.29,268.6 114.38,269.3 114.51,270 113.99,270.7 113.23,271.4 113.01,272.1 113.11,272.8 112.7,273.5 111.86,274.2 111.44,274.9 111.55,275.6 111.38,276.3 110.6,277 109.96,277.7 109.9,278.4 109.8,279.1 109.07,279.8 108.27,280.5 108.11,281.2 108.22,281.9 107.82,282.6 107.16,283.3 107.07,284 107.42,284.7 107.37,285.4 106.81,286.1 106.55,286.8 106.88,287.5 107.05,288.2 106.61,288.9 106.23,289.6 106.49,290.3 106.85,291 106.62,291.7 106.5,291.9 195.4,315.75"/>
<polyline fill="none" stroke="#ffc61e" stroke-width="1.45" stroke-linejoin="round" points="120.52,205.6 119.66,206.3 119.31,207 119.39,207.7 119.04,208.4 118.2,209.1 117.69,209.8 117.75,210.5 117.62,211.2 116.89,211.9 116.24,212.6 116.23,213.3 116.28,214 115.72,214.7 114.98,215.4 114.8,216.1 114.93,216.8 114.56,217.5 113.77,218.2 113.42,218.9 113.59,219.6 113.45,220.3 112.76,221 112.29,221.7 112.46,222.4 112.58,223.1 112.11,223.8 111.6,224.5 111.7,225.2 111.99,225.9 111.71,226.6 111.12,227.3 111.05,228 111.4,228.7 111.32,229.4 110.75,230.1 110.51,230.8 110.84,231.5 110.98,232.2 110.51,232.9 110.12,233.6 110.37,234.3 110.69,235 110.4,235.7 109.94,236.4 110.06,237.1 110.49,237.8 110.43,238.5 109.97,239.2 109.94,239.9 110.42,240.6 110.58,241.3 110.19,242 110,242.7 110.44,243.4 110.8,244.1 110.54,244.8 110.23,245.5 110.53,246.2 111.03,246.9 110.95,247.6 110.56,248.3 110.69,249 111.23,249.7 111.35,250.4 110.96,251.1 110.89,251.8 111.4,252.5 111.72,253.2 111.44,253.9 111.25,254.6 111.69,255.3 112.19,256 112.08,256.7 111.78,257.4 112.06,258.1 112.64,258.8 112.71,259.5 112.36,260.2 112.42,260.9 112.97,261.6 113.18,262.3 112.82,263 112.63,263.7 113.04,264.4 113.35,265.1 113.01,265.8 112.6,266.5 112.79,267.2 113.15,267.9 112.93,268.6 112.4,269.3 112.37,270 112.75,270.7 112.71,271.4 112.17,272.1 111.96,272.8 112.33,273.5 112.5,274.2 112.08,274.9 111.75,275.6 112.07,276.3 112.46,277 112.25,277.7 111.86,278.4 112.06,279.1 112.58,279.8 112.59,280.5 112.2,281.2 112.24,281.9 112.79,282.6 113.02,283.3 112.69,284 112.56,284.7 113.04,285.4 113.46,286.1 113.27,286.8 113.05,287.5 113.46,288.2 114.06,288.9 114.1,289.6 113.83,290.3 114.2,290.6 195.4,311.05"/>
<polyline fill="none" stroke="#ee2222" stroke-width="1.45" stroke-linejoin="round" points="109.89,205.6 110.61,206.3 111.56,207 111.91,207.7 111.81,208.4 112.09,209.1 112.79,209.8 113.1,210.5 112.79,211.2 112.64,211.9 113.05,212.6 113.27,213.3 112.76,214 112.11,214.7 112.02,215.4 112.04,216.1 111.43,216.8 110.52,217.5 110.13,218.2 110.16,218.9 109.78,219.6 108.96,220.3 108.45,221 108.48,221.7 108.26,222.4 107.43,223.1 106.69,223.8 106.59,224.5 106.54,225.2 105.9,225.9 105.13,226.6 104.99,227.3 105.19,228 104.93,228.7 104.34,229.4 104.23,230.1 104.61,230.8 104.65,231.5 104.14,232.2 103.86,232.9 104.18,233.6 104.41,234.3 104.03,235 103.61,235.7 103.81,236.4 104.19,237.1 103.98,237.8 103.5,238.5 103.54,239.2 103.98,239.9 103.99,240.6 103.52,241.3 103.39,242 103.83,242.7 104.09,243.4 103.78,244.1 103.6,244.8 104.08,245.5 104.62,246.2 104.55,246.9 104.32,247.6 104.68,248.3 105.33,249 105.44,249.7 105.13,250.4 105.24,251.1 105.8,251.8 106.01,252.5 105.65,253.2 105.5,253.9 105.95,254.6 106.3,255.3 106.02,256 105.71,256.7 106.02,257.4 106.49,258.1 106.39,258.8 106.01,259.5 106.16,260.2 106.72,260.9 106.86,261.6 106.54,262.3 106.59,263 107.23,263.7 107.66,264.4 107.51,265.1 107.46,265.8 108.04,266.5 108.65,267.2 108.64,267.9 108.46,268.6 108.84,269.3 109.49,270 109.59,270.7 109.28,271.4 109.4,272.1 110,272.8 110.25,273.5 109.94,274.2 109.85,274.9 110.36,275.6 110.79,276.3 110.59,277 110.36,277.7 110.77,278.4 111.35,279.1 111.36,279.8 111.11,280.5 111.4,281.2 112.11,281.9 112.39,282.6 112.2,283.3 112.36,284 113.08,284.7 113.59,285.4 113.49,286.1 113.49,286.8 114.1,287.5 114.77,288.2 114.82,288.9 114.9,289.3 195.4,309.25"/>
<polyline fill="none" stroke="#9a35d0" stroke-width="1.45" stroke-linejoin="round" points="141.19,205.6 141.51,206.3 141.29,207 140.71,207.7 140.61,208.4 140.98,209.1 140.99,209.8 140.46,210.5 140.19,211.2 140.53,211.9 140.74,212.6 140.34,213.3 139.94,214 140.18,214.7 140.54,215.4 140.32,216.1 139.85,216.8 139.93,217.5 140.38,218.2 140.37,218.9 139.89,219.6 139.8,220.3 140.27,221 140.49,221.7 140.14,222.4 139.94,223.1 140.37,223.8 140.8,224.5 140.62,225.2 140.31,225.9 140.59,226.6 141.12,227.3 141.11,228 140.71,228.7 140.77,229.4 141.28,230.1 141.4,230.8 140.95,231.5 140.71,232.2 141.02,232.9 141.15,233.6 140.62,234.3 140.05,235 140.08,235.7 140.22,236.4 139.74,237.1 138.99,237.8 138.77,238.5 138.92,239.2 138.6,239.9 137.83,240.6 137.43,241.3 137.6,242 137.52,242.7 136.83,243.4 136.26,244.1 136.3,244.8 136.33,245.5 135.73,246.2 135,246.9 134.86,247.6 134.98,248.3 134.57,249 133.79,249.7 133.5,250.4 133.69,251.1 133.53,251.8 132.86,252.5 132.47,253.2 132.7,253.9 132.81,254.6 132.29,255.3 131.77,256 131.88,256.7 132.13,257.4 131.78,258.1 131.19,258.8 131.15,259.5 131.49,260.2 131.38,260.9 130.81,261.6 130.64,262.3 131.02,263 131.16,263.7 130.73,264.4 130.45,265.1 130.8,265.8 131.15,266.5 130.87,267.2 130.47,267.9 130.66,268.6 131.1,269.3 131,270 130.54,270.7 130.54,271.4 131.01,272.1 131.1,272.8 130.66,273.5 130.47,274.2 130.87,274.9 131.15,275.6 130.8,276.3 130.45,277 130.73,277.7 131.13,278.4 130.94,279.1 130.5,279.8 130.69,280.5 131.35,281.2 131.2,281.6 195.4,298.15"/></g>
<defs><clipPath id="clipLc"><rect x="52.5" y="344.7" width="141.9" height="128.8"/></clipPath></defs>
<g clip-path="url(#clipLc)">
<rect x="52.5" y="344.7" width="141.9" height="128.8" fill="#f5f5f5"/>
<defs><clipPath id="mottle"><polygon points="52.5,344.7 194.4,344.7 194.4,352.7 52.5,450.7"/></clipPath></defs>
<rect x="52.5" y="344.7" width="141.9" height="128.8" filter="url(#turb)" clip-path="url(#mottle)"/>
<line x1="47.5" y1="453.93" x2="199.4" y2="386.17" stroke="#d6d6d6" stroke-opacity="0.55" stroke-width="1.2"/>
<line x1="47.5" y1="448.93" x2="199.4" y2="381.17" stroke="#e2e2e2" stroke-opacity="0.6" stroke-width="1.0"/>
<line x1="47.5" y1="442.93" x2="199.4" y2="375.17" stroke="#e0e0e0" stroke-opacity="0.6" stroke-width="1.3"/>
<line x1="47.5" y1="435.93" x2="199.4" y2="368.17" stroke="#e4e4e4" stroke-opacity="0.5" stroke-width="1.0"/>
<line x1="47.5" y1="427.93" x2="199.4" y2="360.17" stroke="#e2e2e2" stroke-opacity="0.55" stroke-width="1.4"/>
<line x1="47.5" y1="418.93" x2="199.4" y2="351.17" stroke="#e6e6e6" stroke-opacity="0.5" stroke-width="1.0"/>
<defs><linearGradient id="trg" x1="0" y1="0" x2="1" y2="0"><stop offset="0" stop-color="#b0b0b0" stop-opacity="0.9"/><stop offset="0.45" stop-color="#b8b8b8" stop-opacity="0.6"/><stop offset="1" stop-color="#c8c8c8" stop-opacity="0.25"/></linearGradient></defs>
<polygon points="50.5,451.59 196.4,386.51 196.4,393.01 50.5,458.09" fill="url(#trg)" fill-opacity="0.7"/>
<polygon points="50.5,455.09 196.4,390.01 196.4,393.01 50.5,458.09" fill="url(#trg)" fill-opacity="0.8"/>
<polygon points="51.5,457.12 195.4,392.98 195.4,474.5 51.5,474.5" fill="#979797"/>
</g>
<g clip-path="url(#clipLc)"><polyline fill="none" stroke="#ffc61e" stroke-width="1.3" stroke-linejoin="round" points="109.17,343.7 108.55,344.1 108.08,344.5 107.86,344.9 107.94,345.3 108.35,345.7 109.04,346.1 109.9,346.5 110.83,346.9 111.67,347.3 112.31,347.7 112.65,348.1 112.63,348.5 112.28,348.9 111.62,349.3 110.77,349.7 109.85,350.1 109.01,350.5 108.36,350.9 108.01,351.3 107.98,351.7 108.27,352.1 108.8,352.5 109.48,352.9 110.16,353.3 110.72,353.7 111.06,354.1 111.09,354.5 110.79,354.9 110.18,355.3 109.36,355.7 108.43,356.1 107.53,356.5 106.8,356.9 106.33,357.3 106.19,357.7 106.39,358.1 106.88,358.5 107.55,358.9 108.3,359.3 108.98,359.7 109.45,360.1 109.64,360.5 109.48,360.9 108.97,361.3 108.19,361.7 107.22,362.1 106.2,362.5 105.21,362.9 104.37,363.3 103.79,363.7 103.5,364.1 103.5,364.5 103.72,364.9 104.06,365.3 104.39,365.7 104.6,366.1 104.58,366.5 104.25,366.9 103.62,367.3 102.71,367.7 101.63,368.1 100.48,368.5 99.34,368.9 98.36,369.3 97.65,369.7 97.26,370.1 97.22,370.5 97.48,370.9 97.95,371.3 98.52,371.7 99.05,372.1 99.43,372.5 99.55,372.9 99.38,373.3 98.92,373.7 98.24,374.1 97.44,374.5 96.61,374.9 95.88,375.3 95.37,375.7 95.18,376.1 95.33,376.5 95.81,376.9 96.54,377.3 97.41,377.7 98.29,378.1 99.04,378.5 99.55,378.9 99.75,379.3 99.6,379.7 99.15,380.1 98.48,380.5 97.7,380.9 96.96,381.3 96.37,381.7 96.06,382.1 96.08,382.5 96.46,382.9 97.13,383.3 98,383.7 98.95,384.1 99.84,384.5 100.54,384.9 100.96,385.3 101.04,385.7 100.79,386.1 100.27,386.5 99.58,386.9 98.84,387.3 98.2,387.7 97.79,388.1 97.7,388.5 97.95,388.9 98.52,389.3 99.34,389.7 100.3,390.1 101.26,390.5 102.07,390.9 102.63,391.3 102.86,391.7 102.73,392.1 102.26,392.5 101.55,392.9 100.63,393.3 99.48,393.7 98.27,394.1 97.15,394.5 96.24,394.9 95.58,395.3 95.19,395.7 95.02,396.1 94.98,396.5 95,396.9 94.97,397.3 94.69,397.7 94.08,398.1 93.16,398.5 91.98,398.9 90.65,399.3 89.28,399.7 88.03,400.1 87.01,400.5 86.29,400.9 85.93,401.3 85.9,401.7 86.12,402.1 86.48,402.5 86.86,402.9 87.11,403.3 87.11,403.7 86.81,404.1 86.16,404.5 85.19,404.9 83.98,405.3 82.66,405.7 81.37,406.1 80.24,406.5 79.38,406.9 78.86,407.3 78.68,407.7 78.82,408.1 79.17,408.5 79.61,408.9 80.02,409.3 80.27,409.7 80.27,410.1 79.97,410.5 79.39,410.9 78.58,411.3 77.64,411.7 76.67,412.1 75.81,412.5 75.18,412.9 74.85,413.3 74.88,413.7 75.23,414.1 75.84,414.5 76.58,414.9 77.34,415.3 77.97,415.7 78.36,416.1 78.44,416.5 78.17,416.9 77.6,417.3 76.8,417.7 75.9,418.1 75.03,418.5 74.31,418.9 73.86,419.3 73.74,419.7 73.94,420.1 74.44,420.5 75.13,420.9 75.9,421.3 76.6,421.7 77.12,422.1 77.34,422.5 77.24,422.9 76.8,423.3 76.09,423.7 75.21,424.1 74.29,424.5 73.47,424.9 72.86,425.3 72.56,425.7 72.6,426.1 72.96,426.5 73.57,426.9 74.31,427.3 75.05,427.7 75.66,428.1 76.03,428.5 76.07,428.9 75.77,429.3 75.16,429.7 74.31,430.1 73.35,430.5 72.41,430.9 71.63,431.3 71.12,431.7 70.92,432.1 71.07,432.5 71.5,432.9 72.13,433.3 72.83,433.7 73.47,434.1 73.92,434.5 74.09,434.9 73.93,435.3 73.44,435.7 72.69,436.1 71.77,436.5 70.83,436.9 70,437.3 69.39,437.7 69.1,438.1 69.16,438.5 69.54,438.9 70.17,439.3 70.93,439.7 71.71,440.1 72.35,440.5 72.75,440.9 72.83,441.3 72.58,441.7 72.02,442.1 71.24,442.5 70.36,442.9 69.5,443.3 68.82,443.7 68.4,444.1 68.32,444.5 68.57,444.9 69.13,445.3 69.88,445.7 70.71,446.1 70.3,447 163.5,474"/>
<polyline fill="none" stroke="#ee2222" stroke-width="1.3" stroke-linejoin="round" points="111.61,343.7 110.74,344.1 109.95,344.5 109.36,344.9 109.04,345.3 109.05,345.7 109.38,346.1 109.98,346.5 110.78,346.9 111.65,347.3 112.47,347.7 113.12,348.1 113.51,348.5 113.59,348.9 113.57,349.3 113.67,349.7 113.82,350.1 114.02,350.5 114.26,350.9 114.56,351.3 114.88,351.7 115.23,352.1 115.83,352.5 116.71,352.9 117.81,353.3 119.02,353.7 120.22,354.1 121.29,354.5 122.12,354.9 122.63,355.3 122.8,355.7 122.64,356.1 122.2,356.5 121.59,356.9 120.92,357.3 120.31,357.7 119.88,358.1 119.74,358.5 119.92,358.9 120.42,359.3 121.19,359.7 122.14,360.1 123.17,360.5 124.14,360.9 124.94,361.3 125.46,361.7 125.66,362.1 125.53,362.5 125.08,362.9 124.42,363.3 123.63,363.7 122.85,364.1 122.19,364.5 121.75,364.9 121.6,365.3 121.76,365.7 122.21,366.1 122.88,366.5 123.66,366.9 124.44,367.3 125.1,367.7 125.53,368.1 125.65,368.5 125.43,368.9 124.89,369.3 124.08,369.7 123.11,370.1 122.08,370.5 121.12,370.9 120.36,371.3 119.87,371.7 119.71,372.1 119.86,372.5 120.29,372.9 120.88,373.3 121.52,373.7 122.09,374.1 122.47,374.5 122.57,374.9 122.33,375.3 121.76,375.7 120.89,376.1 119.79,376.5 118.59,376.9 117.41,377.3 116.36,377.7 115.56,378.1 115.08,378.5 114.93,378.9 115.07,379.3 115.44,379.7 115.94,380.1 116.44,380.5 116.84,380.9 117.02,381.3 116.91,381.7 116.48,382.1 115.75,382.5 114.78,382.9 113.67,383.3 112.52,383.7 111.47,384.1 110.61,384.5 110.05,384.9 109.81,385.3 109.91,385.7 110.28,386.1 110.84,386.5 111.47,386.9 112.05,387.3 112.46,387.7 112.61,388.1 112.42,388.5 111.9,388.9 111.08,389.3 110.05,389.7 108.9,390.1 107.76,390.5 106.75,390.9 105.97,391.3 105.48,391.7 105.32,392.1 105.45,392.5 105.8,392.9 106.29,393.3 106.77,393.7 107.15,394.1 107.29,394.5 107.13,394.9 106.64,395.3 105.83,395.7 104.76,396.1 103.51,396.5 102.22,396.9 101,397.3 99.98,397.7 99.22,398.1 98.79,398.5 98.68,398.9 98.83,399.3 99.15,399.7 99.53,400.1 99.85,400.5 99.99,400.9 99.87,401.3 99.42,401.7 98.64,402.1 97.56,402.5 96.27,402.9 94.88,403.3 93.52,403.7 92.3,404.1 91.33,404.5 90.67,404.9 90.37,405.3 90.38,405.7 90.65,406.1 91.03,406.5 91.39,406.9 91.63,407.3 91.63,407.7 91.35,408.1 90.76,408.5 89.87,408.9 88.77,409.3 87.55,409.7 86.35,410.1 85.31,410.5 84.54,410.9 84.14,411.3 84.16,411.7 84.53,412.1 85.22,412.5 86.13,412.9 87.14,413.3 88.13,413.7 88.97,414.1 89.57,414.5 89.88,414.9 89.87,415.3 89.57,415.7 89.08,416.1 88.48,416.5 87.9,416.9 87.46,417.3 87.26,417.7 87.35,418.1 87.77,418.5 88.5,418.9 89.48,419.3 90.62,419.7 91.78,420.1 92.84,420.5 93.7,420.9 94.27,421.3 94.51,421.7 94.45,422.1 94.12,422.5 93.63,422.9 93.09,423.3 92.62,423.7 92.33,424.1 92.31,424.5 92.6,424.9 93.19,425.3 94.04,425.7 95.06,426.1 96.15,426.5 97.18,426.9 98.04,427.3 98.63,427.7 98.9,428.1 98.83,428.5 98.48,428.9 97.9,429.3 97.22,429.7 96.56,430.1 96.04,430.5 95.76,430.9 95.79,431.3 96.14,431.7 96.8,432.1 97.7,432.5 98.73,432.9 99.77,433.3 100.7,433.7 101.41,434.1 101.83,434.5 101.91,434.9 101.68,435.3 99.9,436.5 195.4,460.55"/>
<polyline fill="none" stroke="#22aee8" stroke-width="1.3" stroke-linejoin="round" points="122.71,343.7 123.41,344.1 123.89,344.5 124.1,344.9 123.99,345.3 123.6,345.7 122.97,346.1 122.27,346.5 121.65,346.9 121.17,347.3 120.95,347.7 121.04,348.1 121.48,348.5 122.28,348.9 123.39,349.3 124.74,349.7 126.23,350.1 127.74,350.5 129.15,350.9 130.33,351.3 131.2,351.7 131.71,352.1 131.94,352.5 131.93,352.9 131.73,353.3 131.42,353.7 131.11,354.1 130.88,354.5 130.84,354.9 131.03,355.3 131.48,355.7 132.18,356.1 133.07,356.5 134.08,356.9 135.1,357.3 136,357.7 136.7,358.1 137.18,358.5 137.37,358.9 137.24,359.3 136.82,359.7 136.15,360.1 135.31,360.5 134.4,360.9 133.54,361.3 132.83,361.7 132.35,362.1 132.15,362.5 132.25,362.9 132.64,363.3 133.24,363.7 133.96,364.1 134.65,364.5 135.21,364.9 135.54,365.3 135.57,365.7 135.26,366.1 134.63,366.5 133.69,366.9 132.53,367.3 131.25,367.7 129.96,368.1 128.78,368.5 127.81,368.9 127.12,369.3 126.75,369.7 126.69,370.1 126.87,370.5 127.23,370.9 127.65,371.3 128.05,371.7 128.32,372.1 128.37,372.5 128.15,372.9 127.63,373.3 126.82,373.7 125.79,374.1 124.61,374.5 123.39,374.9 122.24,375.3 121.27,375.7 120.56,376.1 120.14,376.5 120.05,376.9 120.24,377.3 120.67,377.7 121.24,378.1 121.86,378.5 122.4,378.9 122.77,379.3 122.89,379.7 122.72,380.1 122.24,380.5 121.5,380.9 120.55,381.3 119.48,381.7 118.43,382.1 117.49,382.5 116.76,382.9 116.3,383.3 116.15,383.7 116.3,384.1 116.71,384.5 117.3,384.9 117.96,385.3 118.6,385.7 119.09,386.1 119.35,386.5 119.31,386.9 118.94,387.3 118.24,387.7 117.22,388.1 115.97,388.5 114.61,388.9 113.26,389.3 112.04,389.7 111.05,390.1 110.37,390.5 110.03,390.9 110.02,391.3 110.31,391.7 110.8,392.1 111.33,392.5 111.8,392.9 112.1,393.3 112.16,393.7 111.94,394.1 111.41,394.5 110.63,394.9 109.65,395.3 108.56,395.7 107.48,396.1 106.5,396.5 105.73,396.9 105.23,397.3 105.04,397.7 105.16,398.1 105.54,398.5 106.1,398.9 106.75,399.3 107.39,399.7 107.89,400.1 108.19,400.5 108.2,400.9 107.91,401.3 107.33,401.7 106.51,402.1 105.53,402.5 104.49,402.9 103.5,403.3 102.67,403.7 102.08,404.1 101.78,404.5 101.8,404.9 102.09,405.3 102.62,405.7 103.29,406.1 103.99,406.5 104.63,406.9 105.09,407.3 105.3,407.7 105.22,408.1 104.85,408.5 104.2,408.9 103.36,409.3 102.41,409.7 101.46,410.1 100.61,410.5 99.95,410.9 99.56,411.3 99.47,411.7 99.68,412.1 100.16,412.5 100.82,412.9 101.56,413.3 102.29,413.7 102.9,414.1 103.29,414.5 103.41,414.9 103.23,415.3 102.76,415.7 102.06,416.1 101.21,416.5 100.3,416.9 99.46,417.3 98.77,417.7 98.34,418.1 98.2,418.5 98.38,418.9 98.85,419.3 99.56,419.7 100.4,420.1 101.29,420.5 102.1,420.9 102.74,421.3 103.13,421.7 103.23,422.1 103.03,422.5 102.56,422.9 101.88,423.3 101.1,423.7 100.31,424.1 99.62,424.5 99.12,424.9 98.9,425.3 98.97,425.7 99.34,426.1 99.97,426.5 100.78,426.9 101.67,427.3 102.53,427.7 103.26,428.1 103.78,428.5 104.02,428.9 103.95,429.3 103.58,429.7 102.98,430.1 102.21,430.5 101.38,430.9 100.6,431.3 99.98,431.7 99.59,432.1 99.48,432.5 99.69,432.9 100.17,433.3 100.88,433.7 102,434.6 195.4,458.05"/>
<polyline fill="none" stroke="#9a35d0" stroke-width="1.3" stroke-linejoin="round" points="114,343.7 113.72,344.1 113.05,344.5 112.27,344.9 111.72,345.3 111.63,345.7 112.02,346.1 112.76,346.5 113.52,346.9 114,347.3 114,347.7 113.53,348.1 112.81,348.5 112.16,348.9 111.87,349.3 112.09,349.7 112.75,350.1 113.59,350.5 114.3,350.9 114.59,351.3 114.38,351.7 113.79,352.1 113.11,352.5 112.66,352.9 112.69,353.3 113.23,353.7 114.1,354.1 115.01,354.5 115.64,354.9 115.78,355.3 115.46,355.7 114.88,356.1 114.37,356.5 114.21,356.9 114.55,357.3 115.32,357.7 116.27,358.1 117.1,358.5 117.52,358.9 117.44,359.3 116.98,359.7 116.42,360.1 116.09,360.5 116.2,360.9 116.81,361.3 117.74,361.7 118.69,362.1 119.33,362.5 119.48,362.9 119.14,363.3 118.52,363.7 117.95,364.1 117.75,364.5 118.05,364.9 118.78,365.3 119.7,365.7 120.47,366.1 120.82,366.5 120.66,366.9 120.1,367.3 119.42,367.7 118.96,368.1 118.93,368.5 119.38,368.9 120.14,369.3 120.9,369.7 121.34,370.1 121.29,370.5 120.74,370.9 119.93,371.3 119.17,371.7 118.75,372.1 118.83,372.5 119.35,372.9 120.04,373.3 120.58,373.7 120.72,374.1 120.35,374.5 119.57,374.9 118.68,375.3 118,375.7 117.76,376.1 118,376.5 118.57,376.9 119.16,377.3 119.44,377.7 119.24,378.1 118.57,378.5 117.64,378.9 116.77,379.3 116.27,379.7 116.27,380.1 116.71,380.5 117.34,380.9 117.82,381.3 117.9,381.7 117.46,382.1 116.64,382.5 115.72,382.9 115.01,383.3 114.76,383.7 115,384.1 115.57,384.5 116.16,384.9 116.45,385.3 116.25,385.7 115.57,386.1 114.63,386.5 113.75,386.9 113.21,387.3 113.18,387.7 113.57,388.1 114.15,388.5 114.59,388.9 114.62,389.3 114.15,389.7 113.3,390.1 112.35,390.5 111.61,390.9 111.32,391.3 111.53,391.7 112.06,392.1 112.61,392.5 112.87,392.9 112.64,393.3 111.94,393.7 110.99,394.1 110.09,394.5 109.56,394.9 109.53,395.3 109.94,395.7 110.54,396.1 111,396.5 111.05,396.9 110.6,397.3 109.78,397.7 108.85,398.1 108.16,398.5 107.92,398.9 108.19,399.3 108.8,399.7 109.44,400.1 109.79,400.5 109.67,400.9 109.08,401.3 108.24,401.7 107.45,402.1 107.02,402.5 107.09,402.9 107.6,403.3 108.3,403.7 108.85,404.1 109,404.5 108.64,404.9 107.89,405.3 107.04,405.7 106.42,406.1 106.25,406.5 106.58,406.9 107.25,407.3 107.93,407.7 108.33,408.1 108.24,408.5 107.69,408.9 106.88,409.3 106.14,409.7 105.75,410.1 105.88,410.5 106.44,410.9 107.19,411.3 107.81,411.7 108.02,412.1 107.72,412.5 107.05,412.9 106.28,413.3 105.74,413.7 105.67,414.1 106.11,414.5 106.88,414.9 107.69,415.3 108.22,415.7 108.26,416.1 107.85,416.5 107.18,416.9 106.57,417.3 106.33,417.7 106.6,418.1 107.3,418.5 108.18,418.9 108.93,419.3 109.26,419.7 109.08,420.1 108.51,420.5 107.84,420.9 107.38,421.3 107.36,421.7 107.84,422.1 108.65,422.5 109.47,422.9 110,423.3 110.05,423.7 109.62,424.1 108.93,424.5 108.31,424.9 108.04,425.3 108.27,425.7 108.94,426.1 109.79,426.5 110.5,426.9 110.8,427.3 110.59,427.7 110,428.1 109.3,428.5 108.82,428.9 108.79,429.3 109.26,429.7 110.06,430.1 110.2,431 195.4,452.05"/>
<polyline fill="none" stroke="#45bf45" stroke-width="1.3" stroke-linejoin="round" points="104.78,343.7 103.96,344.1 103.4,344.5 103.35,344.9 103.83,345.3 104.63,345.7 105.42,346.1 105.86,346.5 105.76,346.9 105.15,347.3 104.29,347.7 103.52,348.1 103.17,348.5 103.35,348.9 103.99,349.3 104.79,349.7 105.4,350.1 105.54,350.5 105.13,350.9 104.34,351.3 103.46,351.7 102.86,352.1 102.77,352.5 103.22,352.9 103.99,353.3 104.76,353.7 105.18,354.1 105.08,354.5 104.49,354.9 103.67,355.3 102.97,355.7 102.71,356.1 103.01,356.5 103.78,356.9 104.72,357.3 105.49,357.7 105.79,358.1 105.56,358.5 104.93,358.9 104.22,359.3 103.77,359.7 103.83,360.1 104.4,360.5 105.29,360.9 106.15,361.3 106.64,361.7 106.57,362.1 105.99,362.5 105.14,362.9 104.38,363.3 104.03,363.7 104.21,364.1 104.83,364.5 105.62,364.9 106.2,365.3 106.32,365.7 105.88,366.1 105.05,366.5 104.13,366.9 103.49,367.3 103.35,367.7 103.75,368.1 104.47,368.5 105.18,368.9 105.54,369.3 105.38,369.7 104.73,370.1 103.83,370.5 103.04,370.9 102.68,371.3 102.87,371.7 103.52,372.1 104.35,372.5 105.01,372.9 105.21,373.3 104.88,373.7 104.17,374.1 103.39,374.5 102.9,374.9 102.92,375.3 103.48,375.7 104.37,376.1 105.27,376.5 105.82,376.9 105.84,377.3 105.38,377.7 104.66,378.1 104.06,378.5 103.87,378.9 104.23,379.3 105.05,379.7 106.03,380.1 106.82,380.5 107.15,380.9 106.93,381.3 106.32,381.7 105.64,382.1 105.24,382.5 105.36,382.9 106.02,383.3 107.02,383.7 108.01,384.1 108.66,384.5 108.79,384.9 108.43,385.3 107.81,385.7 107.31,386.1 107.22,386.5 107.68,386.9 108.59,387.3 109.67,387.7 110.56,388.1 110.99,388.5 110.87,388.9 110.37,389.3 109.8,389.7 109.5,390.1 109.72,390.5 110.47,390.9 111.55,391.3 112.63,391.7 113.37,392.1 113.59,392.5 113.31,392.9 112.81,393.3 112.46,393.7 112.56,394.1 113.23,394.5 114.36,394.9 115.64,395.3 116.71,395.7 117.27,396.1 117.24,396.5 116.73,396.9 116.1,397.3 115.72,397.7 115.85,398.1 116.51,398.5 117.48,398.9 118.43,399.3 119.02,399.7 119.07,400.1 118.6,400.5 117.88,400.9 117.23,401.3 116.99,401.7 117.27,402.1 117.99,402.5 118.85,402.9 119.5,403.3 119.69,403.7 119.34,404.1 118.58,404.5 117.76,404.9 117.2,405.3 117.15,405.7 117.63,406.1 118.43,406.5 119.22,406.9 119.67,407.3 119.58,407.7 118.99,408.1 118.14,408.5 117.38,408.9 117.02,409.3 117.19,409.7 117.81,410.1 118.59,410.5 119.17,410.9 119.28,411.3 118.83,411.7 117.99,412.1 117.06,412.5 116.4,412.9 116.25,413.3 116.62,413.7 117.31,414.1 118,414.5 118.33,414.9 118.14,415.3 117.44,415.7 116.5,416.1 115.67,416.5 115.25,416.9 115.37,417.3 115.93,417.7 116.64,418.1 117.15,418.5 117.2,418.9 116.69,419.3 115.78,419.7 114.8,420.1 114.08,420.5 113.88,420.9 114.2,421.3 114.86,421.7 115.51,422.1 115.83,422.5 115.61,422.9 114.92,423.3 113.99,423.7 113.17,424.1 112.78,424.5 112.96,424.9 113.61,425.3 114.45,425.7 115.18,426.1 115.53,426.5 115.4,426.9 114.92,427.3 115.4,428.4 195.4,448.95"/></g>
<defs><clipPath id="clipRb"><rect x="194.4" y="206.6" width="141.9" height="128.8"/></clipPath></defs>
<g clip-path="url(#clipRb)">
<polyline fill="none" stroke="#ff8f1e" stroke-width="1.15" stroke-linejoin="round" points="198.6,336.4 198.6,289.5 209.4,289.2 212.4,288 213.32,287.55 213.22,287.1 212.08,286.65 212.15,286.2 212.78,285.75 212.28,285.3 212.15,284.85 211.02,284.4 212.48,283.95 212.54,283.5 212.69,283.05 211.11,282.6 213.5,282.15 212.87,281.7 212.19,281.25 214.16,280.8 212.89,280.35 211.24,279.9 211.69,279.45 210.13,279 212.66,278.55 212.1,278.1 211.64,277.65 213.14,277.2 211.14,276.75 212.5,276.3 210.57,275.85 211.26,275.4 210.97,274.95 213.29,274.5 214.26,274.05 212.66,273.6 213.23,273.15 212.49,272.7 212.94,272.25 211.88,271.8 210.71,271.35 210.27,270.9 212.11,270.45 214.33,270 213.22,269.55 212.17,269.1 214.05,268.65 213.11,268.2 212.7,267.75 212.72,267.3 212.38,266.85 212.11,266.4 211.02,265.95 212.44,265.5 212.33,265.05 213.45,264.6 212.38,264.15 210.68,263.7 211.79,263.25 213.75,262.8 212.46,262.35 211.62,261.9 211.09,261.45 211.06,261 211.73,260.55 211.14,260.1 213.37,259.65 212.44,259.2 212.51,258.75 213.73,258.3 214.15,257.85 212.73,257.4 212.8,256.95 213.18,256.5 212.46,256.05 210.82,255.6 212.51,255.15 213.24,254.7 213.03,254.25 211.76,253.8 212.03,253.35 211.76,252.9 211.94,252.45 213.43,252 214.09,251.55 213.51,251.1 213.23,250.65 213.26,250.2 212.65,249.75 212.41,249.3 211.8,248.85 212.17,248.4 214.36,247.95 213.77,247.5 212.5,247.05 212.01,246.6 211.5,246.15 212.47,245.7 212.77,245.25 211.21,244.8 212.48,244.35 211.91,243.9 213.54,243.45 212.88,243 214.09,242.55 212.49,242.1 212.17,241.65 212.6,241.2 213.41,240.75 213.21,240.3 211.53,239.85 212.3,239.4 212.39,238.95 212.01,238.5 211.7,238.05 213.76,237.6 212.46,237.15 211.66,236.7 212.75,236.25 212.62,235.8 212.4,235.35 213.1,234.9 213.05,234.45 212.92,234 213.42,233.55 212.96,233.1 212.01,232.65 211.96,232.2 211.8,231.75 212.41,231.3 211.43,230.85 210.46,230.4 211.9,229.95 211.05,229.5 210.24,229.05 212.09,228.6 211.67,228.15 212.63,227.7 211.99,227.25 211.27,226.8 210.94,226.35 211.5,225.9 211.88,225.45 211.5,225 211.88,224.55 210.86,224.1 211.95,223.65 210.65,223.2 211.7,222.75 212.82,222.3 213.51,221.85 214.28,221.4 211.56,220.95 212.83,220.5 213.62,220.05 213.65,219.6 211.94,219.15 212.63,218.7 214.14,218.25 211.58,217.8 212.58,217.35 213.46,216.9 212.09,216.45 212.83,216 211.57,215.55 211.42,215.1 211.37,214.65 212.26,214.2 212.28,213.75 213.22,213.3 211.8,212.85 212.1,212.4 213.18,211.95 213.14,211.5 211.43,211.05 212.71,210.6 212.06,210.15 212.65,209.7 212.74,209.25 213.6,208.8 212.87,208.35 210.87,207.9 210.71,207.45 212.55,207 212.21,206.55 213.37,206.1 212.94,205.65 211.89,205.2 213.22,204.75 211.92,204.3"/>
<polyline fill="none" stroke="#ee2222" stroke-width="1.15" stroke-linejoin="round" points="198.6,336.4 198.6,288.9 207.6,288.6 210.6,287.4 208.65,286.95 211.98,286.5 209.2,286.05 210.78,285.6 211.55,285.15 211.02,284.7 209.13,284.25 211.12,283.8 209.39,283.35 208.96,282.9 209.76,282.45 211.1,282 211.03,281.55 211.5,281.1 210.45,280.65 210.39,280.2 209.46,279.75 209.96,279.3 210.97,278.85 210.43,278.4 211,277.95 210.18,277.5 209.91,277.05 210.43,276.6 210.36,276.15 211.09,275.7 210.92,275.25 212.35,274.8 210.92,274.35 210.48,273.9 209.58,273.45 210.31,273 211.16,272.55 210.07,272.1 210.39,271.65 211.22,271.2 210.67,270.75 210.13,270.3 211.38,269.85 210.93,269.4 211.07,268.95 211.86,268.5 212.06,268.05 210.71,267.6 210.13,267.15 210.73,266.7 210.51,266.25 208.77,265.8 211.26,265.35 210.82,264.9 211.36,264.45 209.72,264 211.56,263.55 210.33,263.1 210.42,262.65 209.21,262.2 210.03,261.75 210.21,261.3 210.31,260.85 210.93,260.4 210.76,259.95 211.57,259.5 210.45,259.05 209.61,258.6 210.28,258.15 211.1,257.7 211.93,257.25 211.77,256.8 209.27,256.35 210.56,255.9 211.98,255.45 211.07,255 210.25,254.55 210.79,254.1 210.18,253.65 211.08,253.2 210.73,252.75 211.96,252.3 211.48,251.85 210.18,251.4 211.05,250.95 211.62,250.5 210.37,250.05 210.13,249.6 208.27,249.15 210.76,248.7 210.09,248.25 208.43,247.8 208.27,247.35 209.69,246.9 211.05,246.45 210.65,246 211.06,245.55 209.69,245.1 209.05,244.65 210.98,244.2 211.18,243.75 210.75,243.3 211.86,242.85 210.07,242.4 210.04,241.95 211.41,241.5 212.59,241.05 211.2,240.6 212.38,240.15 210.56,239.7 210.9,239.25 210.53,238.8 209.07,238.35 210.39,237.9 211.42,237.45 210.71,237 210.56,236.55 211.91,236.1 209.81,235.65 208.94,235.2 209.48,234.75 209.13,234.3 211.44,233.85 211.15,233.4 209.94,232.95 209.82,232.5 213.08,232.05 210.77,231.6 209.93,231.15 210.69,230.7 211.23,230.25 211,229.8 209.86,229.35 209.28,228.9 210.77,228.45 210.6,228 209.04,227.55 211.24,227.1 211.53,226.65 210.65,226.2 210.37,225.75 210.75,225.3 209.99,224.85 209.14,224.4 210.47,223.95 209.19,223.5 210.55,223.05 209.22,222.6 210.09,222.15 210.32,221.7 212.21,221.25 210.07,220.8 209.1,220.35 209.54,219.9 209.21,219.45 209.62,219 210.71,218.55 211.37,218.1 212.41,217.65 210.44,217.2 213.06,216.75 213.22,216.3 211.19,215.85 208.6,215.4 209.92,214.95 210.47,214.5 208.38,214.05 210,213.6 210.23,213.15 209.74,212.7 210.94,212.25 211.66,211.8 210.46,211.35 210.77,210.9 210.03,210.45 209.68,210 210.4,209.55 211.04,209.1 210.2,208.65 208.38,208.2 210.49,207.75 209.05,207.3 210.25,206.85 212.19,206.4 211.06,205.95 209.61,205.5 208.91,205.05 211.21,204.6 210.77,204.15"/>
<polyline fill="none" stroke="#ffc61e" stroke-width="1.15" stroke-linejoin="round" points="198.6,336.4 198.6,290.2 208.8,289.9 211.8,288.7 212.31,288.25 212.83,287.8 212.06,287.35 211.59,286.9 210.84,286.45 208.58,286 209.39,285.55 211.01,285.1 211.4,284.65 212.06,284.2 211.76,283.75 211.94,283.3 212.59,282.85 211.2,282.4 211.35,281.95 210.14,281.5 212.23,281.05 211.96,280.6 212.31,280.15 213.42,279.7 213.31,279.25 212.2,278.8 212.67,278.35 210.7,277.9 211.88,277.45 211.96,277 210.31,276.55 212.62,276.1 211.38,275.65 212.32,275.2 211.56,274.75 212.67,274.3 213.31,273.85 211.46,273.4 210.25,272.95 211.21,272.5 212.43,272.05 211.64,271.6 211.17,271.15 212.07,270.7 209.26,270.25 210.41,269.8 210.07,269.35 211.56,268.9 211.03,268.45 210.51,268 211.08,267.55 210.19,267.1 211.3,266.65 211,266.2 211.2,265.75 210.94,265.3 212.41,264.85 211.88,264.4 212.32,263.95 212.41,263.5 211.22,263.05 212.17,262.6 212.24,262.15 212.23,261.7 211.55,261.25 211.32,260.8 212.4,260.35 214.05,259.9 211.69,259.45 212.27,259 211.59,258.55 212.48,258.1 212.42,257.65 212.99,257.2 209.5,256.75 210.54,256.3 210.48,255.85 211.3,255.4 210.96,254.95 210.94,254.5 212.19,254.05 213.72,253.6 209.69,253.15 210.87,252.7 211.82,252.25 211.81,251.8 211.48,251.35 210.42,250.9 210.49,250.45 212.1,250 212.91,249.55 212.23,249.1 211.13,248.65 211.69,248.2 211.54,247.75 212.24,247.3 212.04,246.85 211.28,246.4 211.83,245.95 210.69,245.5 212.25,245.05 213.06,244.6 211.06,244.15 211.98,243.7 210.91,243.25 212.55,242.8 212.88,242.35 211.91,241.9 212.78,241.45 211.68,241 211.15,240.55 211.07,240.1 211.45,239.65 211.39,239.2 211.82,238.75 211.22,238.3 212.35,237.85 212.94,237.4 211.67,236.95 210.41,236.5 212.07,236.05 212.96,235.6 211.99,235.15 210.64,234.7 211.7,234.25 213.22,233.8 210.44,233.35 211.85,232.9 211.52,232.45 210.9,232 212,231.55 210.63,231.1 211.73,230.65 213.03,230.2 212.34,229.75 211.13,229.3 209.91,228.85 210.01,228.4 209.52,227.95 212.63,227.5 211.81,227.05 210.81,226.6 210.27,226.15 210.33,225.7 211.04,225.25 210.35,224.8 212.96,224.35 211.44,223.9 210.95,223.45 211.84,223 213.19,222.55 213.47,222.1 211.84,221.65 212.05,221.2 212.02,220.75 212.37,220.3 212.21,219.85 211.03,219.4 210.37,218.95 211.54,218.5 210.6,218.05 212.73,217.6 212.12,217.15 210.92,216.7 211.23,216.25 211.15,215.8 211.48,215.35 212.6,214.9 210.67,214.45 209.69,214 211.49,213.55 211.54,213.1 211.88,212.65 212.25,212.2 211.76,211.75 212.55,211.3 211.18,210.85 211.67,210.4 210.97,209.95 210.48,209.5 211.99,209.05 212.4,208.6 210.13,208.15 210.23,207.7 211.61,207.25 212.76,206.8 211.46,206.35 211.52,205.9 210.37,205.45 213.76,205 212.84,204.55"/>
<polyline fill="none" stroke="#22aee8" stroke-width="1.15" stroke-linejoin="round" points="198.6,336.4 198.6,298.8 204,297.6 207.2,295.3 208,290.8 208.47,290.35 208.49,289.9 208.71,289.45 208.53,289 207.77,288.55 208.35,288.1 208.02,287.65 208.84,287.2 207.56,286.75 207.32,286.3 208.15,285.85 208.87,285.4 208.23,284.95 207.39,284.5 207.59,284.05 207.36,283.6 209.09,283.15 208.86,282.7 209.07,282.25 208.41,281.8 207.57,281.35 208.61,280.9 209.28,280.45 208.68,280 208.05,279.55 208.68,279.1 207.79,278.65 208.37,278.2 207.44,277.75 206.96,277.3 207.97,276.85 208.11,276.4 209.32,275.95 208.05,275.5 207.89,275.05 206.97,274.6 206.15,274.15 205.97,273.7 207.6,273.25 206.86,272.8 208.36,272.35 209.04,271.9 207.96,271.45 209.09,271 208.36,270.55 208.81,270.1 207.93,269.65 208.56,269.2 207.32,268.75 208.12,268.3 207.55,267.85 207.63,267.4 208.22,266.95 208.06,266.5 207.82,266.05 208.35,265.6 208.57,265.15 206.99,264.7 207.98,264.25 208.36,263.8 207.4,263.35 207.97,262.9 206.86,262.45 208.6,262 207.86,261.55 207.76,261.1 208.69,260.65 207.96,260.2 208.3,259.75 207.16,259.3 207.18,258.85 206.57,258.4 207.27,257.95 208.42,257.5 208.15,257.05 208.57,256.6 207.26,256.15 206.98,255.7 207.2,255.25 208.05,254.8 208.14,254.35 207.89,253.9 208.29,253.45 207.83,253 207.79,252.55 208.78,252.1 207.65,251.65 207.89,251.2 209.04,250.75 208.25,250.3 208.46,249.85 207.54,249.4 209.19,248.95 206.53,248.5 206.57,248.05 206.64,247.6 208.67,247.15 208.32,246.7 207.76,246.25 206.83,245.8 207.78,245.35 207.88,244.9 207.3,244.45 206.53,244 206.59,243.55 207.6,243.1 207.97,242.65 207.91,242.2 207.72,241.75 206.45,241.3 207.43,240.85 206.91,240.4 207.57,239.95 208.08,239.5 207.38,239.05 206.91,238.6 208.28,238.15 208.21,237.7 207.44,237.25 205.44,236.8 207.06,236.35 208.05,235.9 208.72,235.45 207.57,235 207.25,234.55 207.3,234.1 208.28,233.65 207.06,233.2 207.49,232.75 207.01,232.3 207.77,231.85 206.62,231.4 207.73,230.95 207.41,230.5 207.51,230.05 208.11,229.6 208.75,229.15 206.81,228.7 208.26,228.25 208.36,227.8 207.75,227.35 208.84,226.9 208.25,226.45 208.91,226 207.69,225.55 207.12,225.1 208.51,224.65 209.64,224.2 208.83,223.75 208.78,223.3 207.74,222.85 206.79,222.4 207.33,221.95 208.78,221.5 206.7,221.05 207.1,220.6 206.15,220.15 207.39,219.7 208.33,219.25 207.03,218.8 207.26,218.35 208.63,217.9 207.98,217.45 206.93,217 206.55,216.55 205.91,216.1 207.81,215.65 207.24,215.2 208.42,214.75 208.64,214.3 207.56,213.85 207.33,213.4 208.24,212.95 208.05,212.5 208.07,212.05 206.65,211.6 208.13,211.15 207.24,210.7 205.93,210.25 206.78,209.8 207.81,209.35 209.38,208.9 207.99,208.45 206.86,208 209.11,207.55 208.31,207.1 207.76,206.65 206.98,206.2 206.8,205.75 208.61,205.3 207.84,204.85 207.41,204.4"/>
<polyline fill="none" stroke="#45bf45" stroke-width="1.15" stroke-linejoin="round" points="198.6,336.4 198.6,292.2 209.2,291.9 212.2,290.7 211.72,290.25 213.54,289.8 212.04,289.35 212.75,288.9 212.62,288.45 212.55,288 211.47,287.55 212.61,287.1 213.85,286.65 212.65,286.2 211.46,285.75 210.75,285.3 211.95,284.85 211.87,284.4 212,283.95 212.15,283.5 210.78,283.05 212.52,282.6 212.52,282.15 212.22,281.7 212.43,281.25 213.15,280.8 212.54,280.35 211.49,279.9 213.1,279.45 212.06,279 211.47,278.55 210.5,278.1 211.7,277.65 211.05,277.2 211.36,276.75 212.38,276.3 212.28,275.85 213.19,275.4 212.79,274.95 211.99,274.5 211.82,274.05 211.61,273.6 212.64,273.15 212.35,272.7 211.85,272.25 212.9,271.8 212.5,271.35 211.85,270.9 210.66,270.45 212.15,270 212.41,269.55 212.31,269.1 211.82,268.65 211.29,268.2 211.71,267.75 212.27,267.3 212.1,266.85 212.03,266.4 211.71,265.95 212.37,265.5 212.47,265.05 211.57,264.6 212.73,264.15 213.11,263.7 213.25,263.25 212.39,262.8 212.07,262.35 211.06,261.9 212.58,261.45 210.28,261 211.25,260.55 211.59,260.1 212.83,259.65 212.39,259.2 211.34,258.75 210.59,258.3 211.02,257.85 211.95,257.4 212.18,256.95 212.01,256.5 211.49,256.05 211.79,255.6 213.02,255.15 211.4,254.7 211.99,254.25 213.68,253.8 213.17,253.35 212.06,252.9 212.79,252.45 211.66,252 212.05,251.55 213.63,251.1 214.43,250.65 211.25,250.2 212.58,249.75 214.16,249.3 212.27,248.85 212.47,248.4 213.71,247.95 212.19,247.5 212.63,247.05 212.27,246.6 210.39,246.15 211.99,245.7 211.96,245.25 213.01,244.8 214.43,244.35 213.52,243.9 212.25,243.45 212.64,243 212.52,242.55 213.27,242.1 211.15,241.65 210.78,241.2 209.83,240.75 212.07,240.3 212.14,239.85 211.57,239.4 211.32,238.95 211.39,238.5 211.08,238.05 211.56,237.6 211.54,237.15 213.32,236.7 212.84,236.25 211.62,235.8 211.47,235.35 213.12,234.9 212.91,234.45 212.69,234 213.03,233.55 213.96,233.1 211.57,232.65 211.3,232.2 210.28,231.75 212.09,231.3 211.81,230.85 211.44,230.4 211.25,229.95 212.57,229.5 212.18,229.05 211.69,228.6 213.24,228.15 211.52,227.7 210.79,227.25 214.24,226.8 212.46,226.35 211.76,225.9 211.38,225.45 211.82,225 212.83,224.55 213.1,224.1 212.99,223.65 212.17,223.2 210.78,222.75 212.04,222.3 213.6,221.85 213.63,221.4 212.47,220.95 213.04,220.5 212.09,220.05 212.11,219.6 211,219.15 211.54,218.7 212.14,218.25 212.02,217.8 212.88,217.35 214.19,216.9 214.05,216.45 212.47,216 211.59,215.55 211.4,215.1 211.03,214.65 211.88,214.2 212.5,213.75 212.47,213.3 212.46,212.85 212.43,212.4 212.14,211.95 211.48,211.5 213.62,211.05 213.62,210.6 211.76,210.15 211.21,209.7 211.35,209.25 211.98,208.8 213.33,208.35 213.5,207.9 213.61,207.45 213.65,207 213.69,206.55 213.35,206.1 212.98,205.65 212.32,205.2 210.58,204.75 211.59,204.3"/>
<polyline fill="none" stroke="#9a35d0" stroke-width="1.15" stroke-linejoin="round" points="198.6,336.4 198.6,281.6 203,281.3 206,280.1 207.44,279.65 206,279.2 205.5,278.75 206.66,278.3 206.26,277.85 205.7,277.4 207.15,276.95 206.85,276.5 206.86,276.05 205.81,275.6 206.34,275.15 206.4,274.7 206.74,274.25 207.14,273.8 207.24,273.35 206.51,272.9 206.7,272.45 205.3,272 206.3,271.55 206.64,271.1 205.88,270.65 205.35,270.2 205.76,269.75 204.96,269.3 205.96,268.85 206.22,268.4 205.31,267.95 205.83,267.5 206.8,267.05 207.09,266.6 207.14,266.15 206.22,265.7 205.8,265.25 205.63,264.8 206.36,264.35 207.99,263.9 207.72,263.45 207.78,263 207.62,262.55 205.19,262.1 205.6,261.65 205.53,261.2 206.86,260.75 207.61,260.3 205.95,259.85 206.02,259.4 206.45,258.95 205.74,258.5 205.42,258.05 205.28,257.6 206.49,257.15 205.42,256.7 206.73,256.25 206.29,255.8 206.69,255.35 207.44,254.9 205.9,254.45 205.32,254 206.14,253.55 205.22,253.1 205.18,252.65 205.66,252.2 206.02,251.75 205.01,251.3 205.4,250.85 206.29,250.4 207.16,249.95 204.78,249.5 206.68,249.05 206.91,248.6 205.41,248.15 204.65,247.7 205.93,247.25 205.64,246.8 206,246.35 206.69,245.9 205.91,245.45 206.1,245 206.41,244.55 206.83,244.1 207.65,243.65 207.85,243.2 206.75,242.75 206.04,242.3 207.9,241.85 207.08,241.4 206.66,240.95 205.32,240.5 206.42,240.05 205.51,239.6 205.49,239.15 204.78,238.7 205.22,238.25 205.82,237.8 204.75,237.35 204.91,236.9 205.61,236.45 204.88,236 204.67,235.55 204.94,235.1 204.56,234.65 206.06,234.2 205.23,233.75 206.38,233.3 206.85,232.85 205.3,232.4 205.82,231.95 205.57,231.5 204.96,231.05 205.42,230.6 205.63,230.15 206.46,229.7 206.95,229.25 205.41,228.8 205.5,228.35 206.27,227.9 207.02,227.45 204.36,227 206.53,226.55 206.02,226.1 207.23,225.65 206.03,225.2 205.35,224.75 205.84,224.3 206.89,223.85 206.29,223.4 204.21,222.95 206.01,222.5 204.72,222.05 204.83,221.6 204.72,221.15 204.15,220.7 204.44,220.25 204.74,219.8 205.13,219.35 205.7,218.9 205.64,218.45 204.71,218 205.47,217.55 206.62,217.1 206.94,216.65 206.39,216.2 206.61,215.75 206.9,215.3 207.36,214.85 207.76,214.4 206.27,213.95 205.86,213.5 207.14,213.05 207.59,212.6 207.71,212.15 204.64,211.7 205.42,211.25 203.22,210.8 205.75,210.35 205.97,209.9 206.03,209.45 205.9,209 207.01,208.55 206.07,208.1 206.85,207.65 206.7,207.2 206.49,206.75 206.52,206.3 206.24,205.85 205.2,205.4 206.33,204.95 206.67,204.5"/>
</g>
<rect x="258.7" y="311.6" width="72.8" height="17.8" rx="2.2" fill="#fff" fill-opacity="0.85" stroke="#444" stroke-width="0.9"/>
<text x="295" y="323.6" font-family="'DejaVu Sans', 'Liberation Sans', sans-serif" font-size="10.3" text-anchor="middle" fill="#000" stroke="#000" stroke-width="0.2">planar shock</text>
<defs><clipPath id="clipRc"><rect x="194.4" y="344.7" width="141.9" height="128.8"/></clipPath></defs>
<g clip-path="url(#clipRc)">
<polyline fill="none" stroke="#ee2222" stroke-width="0.95" stroke-opacity="0.82" stroke-linejoin="round" points="198.6,474.5 198.6,443 203,433.8 222.92,433.2 211.1,430.83 230.77,427.99 213.44,425.25 243.57,422.97 217.06,421.03 251.72,419.06 222.05,416.15 259.45,413.62 224.8,411.48 257.7,409.6 215.51,407.56 254.57,404.45 229.25,401.21 270.22,398.45 224.08,395.22 266.96,391.98 240.62,390.09 277.19,388.2 230.03,385.2 289.99,382.37 230.61,379.58 302.57,376.78 253.21,374.81 291.04,371.64 259.04,368.45 315.78,366.53 258.81,363.33 303.37,361.38 248.32,358.79 289.39,356.46 248,354.7 311.08,352.31 244.45,349.13 322.79,346.86 246.82,343.87 292.09,341.11"/>
<polyline fill="none" stroke="#ffc61e" stroke-width="0.95" stroke-opacity="0.82" stroke-linejoin="round" points="198.6,474.5 198.6,452 199.5,450.6 208.04,450 204.02,447.87 217.68,445.86 205.69,444.03 226.25,441.89 210.1,439.78 238.2,437.58 212.01,435.54 235.32,433.4 210.45,431.51 233.02,429.47 219.77,427.27 246.38,424.91 212.14,423.26 245.44,421.61 214.21,420.06 243.96,417.47 220.62,415.99 248.28,413.75 221.76,412.2 255.37,410.71 216.2,408.19 259.86,406.1 218.48,403.93 253.7,402.45 229.07,400.99 251.59,398.97 220.74,396.65 257.26,394.63 230.09,393.11 250.43,390.87 223.33,388.95 262.76,386.43 231.14,383.89 255.66,381.54 225.41,379.12 267.79,376.73 223.84,374.72 269.57,372.6 223.14,370.38 271.88,368.68 227.24,366.25 287.4,363.78 237.84,362.27 263.68,360.39 231.36,358.73 282.18,357.31 231.55,355.36 290.4,352.92 231.43,350.97 274.74,348.85 231.49,346.38 260.11,344.82 227.87,343.22 283.24,340.73"/>
<polyline fill="none" stroke="#22aee8" stroke-width="0.95" stroke-opacity="0.82" stroke-linejoin="round" points="198.6,474.5 198.6,440 202.9,432.6 221.73,432 214.43,429.7 226.32,427.99 218.57,425.69 236.15,423.82 215.55,421.95 249.15,419.7 220.46,416.94 242.02,415.4 226.47,413.05 256.07,411.36 216.62,408.72 255.12,406.05 226.13,403.45 263.15,401.07 223.27,398.58 266.3,396.58 223.42,394.74 253.27,393.04 221.27,390.79 260.15,388.73 230.2,386.73 254.22,384.56 227.93,382.12 250.79,380.03 223.14,377.25 263.14,375.25 226.21,372.54 268.26,370.89 229.76,368.16 261.59,365.37 223.57,362.73 277.33,360.34 238.49,358.48 263.93,356.2 235.93,354.64 270.44,352.65 225.59,350.89 273.3,349.26 230.66,347.59 263.86,345.32 232.93,343.21"/>
<polyline fill="none" stroke="#45bf45" stroke-width="0.95" stroke-opacity="0.82" stroke-linejoin="round" points="198.6,474.5 198.6,434 202.2,427.8 216.04,427.2 215.17,425.33 224.86,423.6 214.48,421.29 235.38,418.83 215.6,416.71 242.3,415.06 216.26,412.28 243.74,410.37 223.76,407.86 247.95,405.36 215.74,403.05 250.8,400.92 219.07,399.02 249.34,396.98 225.66,395.46 243.91,393.04 218.73,391.22 259.04,389.18 228.76,387.17 245.71,385.43 218.83,383.28 255.48,381.62 226.47,379.68 248.48,377.88 225.35,375.22 252,373.56 218.67,371.93 245.15,369.69 219.23,367.91 253.92,366.26 222.99,364.54 248.5,362.48 221.02,360.8 252.86,358.08 229.98,355.99 260.95,353.47 227.25,350.81 259.72,349.09 231.76,347 261.46,345.18 225.52,343.67 247.63,341.72"/>
<polyline fill="none" stroke="#9a35d0" stroke-width="0.95" stroke-opacity="0.82" stroke-linejoin="round" points="198.6,474.5 198.6,434.5 201.4,430.2 218,429.6 213.8,427.81 221.21,425.21 214.68,423.27 224.26,421.3 213.49,419 226.86,416.7 213.77,414.48 225.45,412.07 216.15,409.99 234.2,408.51 213.8,406.35 235.59,403.81 219.21,401.18 238.02,399.08 217.5,397.16 233.2,395.24 218.24,392.58 234.67,390.47 215.99,388.59 239.92,385.92 219.28,383.85 235.64,381.32 218.31,379.49 242.23,377.44 221.97,374.85 238.7,372.5 222.88,370.81 239.03,368.27 222.94,365.84 240.06,363.99 217,361.31 245.41,359.65 215.58,357.08 241.97,354.88 221.26,352.51 241.97,350.33 216.61,348.08 237.61,346.39 220.48,343.75 247.59,341.5"/>
</g>
<rect x="235.4" y="450.6" width="96.6" height="16.4" rx="2.2" fill="#fff" fill-opacity="0.85" stroke="#444" stroke-width="0.9"/>
<text x="283.6" y="461.8" font-family="'DejaVu Sans', 'Liberation Sans', sans-serif" font-size="10.3" text-anchor="middle" fill="#000" stroke="#000" stroke-width="0.2">corrugated shock</text>
<g stroke="#000" fill="none">
<line x1="62.63" y1="335.4" x2="62.63" y2="332.7" stroke-width="0.72"/>
<line x1="62.63" y1="206.6" x2="62.63" y2="209.3" stroke-width="0.72"/>
<line x1="72.77" y1="335.4" x2="72.77" y2="332.7" stroke-width="0.72"/>
<line x1="72.77" y1="206.6" x2="72.77" y2="209.3" stroke-width="0.72"/>
<line x1="82.91" y1="335.4" x2="82.91" y2="332.7" stroke-width="0.72"/>
<line x1="82.91" y1="206.6" x2="82.91" y2="209.3" stroke-width="0.72"/>
<line x1="103.17" y1="335.4" x2="103.17" y2="332.7" stroke-width="0.72"/>
<line x1="103.17" y1="206.6" x2="103.17" y2="209.3" stroke-width="0.72"/>
<line x1="113.31" y1="335.4" x2="113.31" y2="332.7" stroke-width="0.72"/>
<line x1="113.31" y1="206.6" x2="113.31" y2="209.3" stroke-width="0.72"/>
<line x1="123.44" y1="335.4" x2="123.44" y2="332.7" stroke-width="0.72"/>
<line x1="123.44" y1="206.6" x2="123.44" y2="209.3" stroke-width="0.72"/>
<line x1="143.71" y1="335.4" x2="143.71" y2="332.7" stroke-width="0.72"/>
<line x1="143.71" y1="206.6" x2="143.71" y2="209.3" stroke-width="0.72"/>
<line x1="153.85" y1="335.4" x2="153.85" y2="332.7" stroke-width="0.72"/>
<line x1="153.85" y1="206.6" x2="153.85" y2="209.3" stroke-width="0.72"/>
<line x1="163.99" y1="335.4" x2="163.99" y2="332.7" stroke-width="0.72"/>
<line x1="163.99" y1="206.6" x2="163.99" y2="209.3" stroke-width="0.72"/>
<line x1="184.25" y1="335.4" x2="184.25" y2="332.7" stroke-width="0.72"/>
<line x1="184.25" y1="206.6" x2="184.25" y2="209.3" stroke-width="0.72"/>
<line x1="194.39" y1="335.4" x2="194.39" y2="332.7" stroke-width="0.72"/>
<line x1="194.39" y1="206.6" x2="194.39" y2="209.3" stroke-width="0.72"/>
<line x1="52.5" y1="335.4" x2="52.5" y2="330.6" stroke-width="0.9"/>
<line x1="52.5" y1="206.6" x2="52.5" y2="211.4" stroke-width="0.9"/>
<line x1="93.04" y1="335.4" x2="93.04" y2="330.6" stroke-width="0.9"/>
<line x1="93.04" y1="206.6" x2="93.04" y2="211.4" stroke-width="0.9"/>
<line x1="133.58" y1="335.4" x2="133.58" y2="330.6" stroke-width="0.9"/>
<line x1="133.58" y1="206.6" x2="133.58" y2="211.4" stroke-width="0.9"/>
<line x1="174.12" y1="335.4" x2="174.12" y2="330.6" stroke-width="0.9"/>
<line x1="174.12" y1="206.6" x2="174.12" y2="211.4" stroke-width="0.9"/>
<line x1="52.5" y1="325.26" x2="55.2" y2="325.26" stroke-width="0.72"/>
<line x1="194.4" y1="325.26" x2="191.7" y2="325.26" stroke-width="0.72"/>
<line x1="52.5" y1="315.12" x2="55.2" y2="315.12" stroke-width="0.72"/>
<line x1="194.4" y1="315.12" x2="191.7" y2="315.12" stroke-width="0.72"/>
<line x1="52.5" y1="304.98" x2="55.2" y2="304.98" stroke-width="0.72"/>
<line x1="194.4" y1="304.98" x2="191.7" y2="304.98" stroke-width="0.72"/>
<line x1="52.5" y1="294.84" x2="55.2" y2="294.84" stroke-width="0.72"/>
<line x1="194.4" y1="294.84" x2="191.7" y2="294.84" stroke-width="0.72"/>
<line x1="52.5" y1="274.56" x2="55.2" y2="274.56" stroke-width="0.72"/>
<line x1="194.4" y1="274.56" x2="191.7" y2="274.56" stroke-width="0.72"/>
<line x1="52.5" y1="264.42" x2="55.2" y2="264.42" stroke-width="0.72"/>
<line x1="194.4" y1="264.42" x2="191.7" y2="264.42" stroke-width="0.72"/>
<line x1="52.5" y1="254.28" x2="55.2" y2="254.28" stroke-width="0.72"/>
<line x1="194.4" y1="254.28" x2="191.7" y2="254.28" stroke-width="0.72"/>
<line x1="52.5" y1="244.14" x2="55.2" y2="244.14" stroke-width="0.72"/>
<line x1="194.4" y1="244.14" x2="191.7" y2="244.14" stroke-width="0.72"/>
<line x1="52.5" y1="223.86" x2="55.2" y2="223.86" stroke-width="0.72"/>
<line x1="194.4" y1="223.86" x2="191.7" y2="223.86" stroke-width="0.72"/>
<line x1="52.5" y1="213.72" x2="55.2" y2="213.72" stroke-width="0.72"/>
<line x1="194.4" y1="213.72" x2="191.7" y2="213.72" stroke-width="0.72"/>
<line x1="52.5" y1="335.4" x2="57.3" y2="335.4" stroke-width="0.9"/>
<line x1="194.4" y1="335.4" x2="189.6" y2="335.4" stroke-width="0.9"/>
<line x1="52.5" y1="284.7" x2="57.3" y2="284.7" stroke-width="0.9"/>
<line x1="194.4" y1="284.7" x2="189.6" y2="284.7" stroke-width="0.9"/>
<line x1="52.5" y1="234" x2="57.3" y2="234" stroke-width="0.9"/>
<line x1="194.4" y1="234" x2="189.6" y2="234" stroke-width="0.9"/>
<line x1="203" y1="335.4" x2="203" y2="332.7" stroke-width="0.72"/>
<line x1="203" y1="206.6" x2="203" y2="209.3" stroke-width="0.72"/>
<line x1="211.6" y1="335.4" x2="211.6" y2="332.7" stroke-width="0.72"/>
<line x1="211.6" y1="206.6" x2="211.6" y2="209.3" stroke-width="0.72"/>
<line x1="220.2" y1="335.4" x2="220.2" y2="332.7" stroke-width="0.72"/>
<line x1="220.2" y1="206.6" x2="220.2" y2="209.3" stroke-width="0.72"/>
<line x1="228.8" y1="335.4" x2="228.8" y2="332.7" stroke-width="0.72"/>
<line x1="228.8" y1="206.6" x2="228.8" y2="209.3" stroke-width="0.72"/>
<line x1="246" y1="335.4" x2="246" y2="332.7" stroke-width="0.72"/>
<line x1="246" y1="206.6" x2="246" y2="209.3" stroke-width="0.72"/>
<line x1="254.6" y1="335.4" x2="254.6" y2="332.7" stroke-width="0.72"/>
<line x1="254.6" y1="206.6" x2="254.6" y2="209.3" stroke-width="0.72"/>
<line x1="263.2" y1="335.4" x2="263.2" y2="332.7" stroke-width="0.72"/>
<line x1="263.2" y1="206.6" x2="263.2" y2="209.3" stroke-width="0.72"/>
<line x1="271.8" y1="335.4" x2="271.8" y2="332.7" stroke-width="0.72"/>
<line x1="271.8" y1="206.6" x2="271.8" y2="209.3" stroke-width="0.72"/>
<line x1="289" y1="335.4" x2="289" y2="332.7" stroke-width="0.72"/>
<line x1="289" y1="206.6" x2="289" y2="209.3" stroke-width="0.72"/>
<line x1="297.6" y1="335.4" x2="297.6" y2="332.7" stroke-width="0.72"/>
<line x1="297.6" y1="206.6" x2="297.6" y2="209.3" stroke-width="0.72"/>
<line x1="306.2" y1="335.4" x2="306.2" y2="332.7" stroke-width="0.72"/>
<line x1="306.2" y1="206.6" x2="306.2" y2="209.3" stroke-width="0.72"/>
<line x1="314.8" y1="335.4" x2="314.8" y2="332.7" stroke-width="0.72"/>
<line x1="314.8" y1="206.6" x2="314.8" y2="209.3" stroke-width="0.72"/>
<line x1="332" y1="335.4" x2="332" y2="332.7" stroke-width="0.72"/>
<line x1="332" y1="206.6" x2="332" y2="209.3" stroke-width="0.72"/>
<line x1="194.4" y1="335.4" x2="194.4" y2="330.6" stroke-width="0.9"/>
<line x1="194.4" y1="206.6" x2="194.4" y2="211.4" stroke-width="0.9"/>
<line x1="237.4" y1="335.4" x2="237.4" y2="330.6" stroke-width="0.9"/>
<line x1="237.4" y1="206.6" x2="237.4" y2="211.4" stroke-width="0.9"/>
<line x1="280.4" y1="335.4" x2="280.4" y2="330.6" stroke-width="0.9"/>
<line x1="280.4" y1="206.6" x2="280.4" y2="211.4" stroke-width="0.9"/>
<line x1="323.4" y1="335.4" x2="323.4" y2="330.6" stroke-width="0.9"/>
<line x1="323.4" y1="206.6" x2="323.4" y2="211.4" stroke-width="0.9"/>
<line x1="194.4" y1="325.26" x2="197.1" y2="325.26" stroke-width="0.72"/>
<line x1="336.3" y1="325.26" x2="333.6" y2="325.26" stroke-width="0.72"/>
<line x1="194.4" y1="315.12" x2="197.1" y2="315.12" stroke-width="0.72"/>
<line x1="336.3" y1="315.12" x2="333.6" y2="315.12" stroke-width="0.72"/>
<line x1="194.4" y1="304.98" x2="197.1" y2="304.98" stroke-width="0.72"/>
<line x1="336.3" y1="304.98" x2="333.6" y2="304.98" stroke-width="0.72"/>
<line x1="194.4" y1="294.84" x2="197.1" y2="294.84" stroke-width="0.72"/>
<line x1="336.3" y1="294.84" x2="333.6" y2="294.84" stroke-width="0.72"/>
<line x1="194.4" y1="274.56" x2="197.1" y2="274.56" stroke-width="0.72"/>
<line x1="336.3" y1="274.56" x2="333.6" y2="274.56" stroke-width="0.72"/>
<line x1="194.4" y1="264.42" x2="197.1" y2="264.42" stroke-width="0.72"/>
<line x1="336.3" y1="264.42" x2="333.6" y2="264.42" stroke-width="0.72"/>
<line x1="194.4" y1="254.28" x2="197.1" y2="254.28" stroke-width="0.72"/>
<line x1="336.3" y1="254.28" x2="333.6" y2="254.28" stroke-width="0.72"/>
<line x1="194.4" y1="244.14" x2="197.1" y2="244.14" stroke-width="0.72"/>
<line x1="336.3" y1="244.14" x2="333.6" y2="244.14" stroke-width="0.72"/>
<line x1="194.4" y1="223.86" x2="197.1" y2="223.86" stroke-width="0.72"/>
<line x1="336.3" y1="223.86" x2="333.6" y2="223.86" stroke-width="0.72"/>
<line x1="194.4" y1="213.72" x2="197.1" y2="213.72" stroke-width="0.72"/>
<line x1="336.3" y1="213.72" x2="333.6" y2="213.72" stroke-width="0.72"/>
<line x1="194.4" y1="335.4" x2="199.2" y2="335.4" stroke-width="0.9"/>
<line x1="336.3" y1="335.4" x2="331.5" y2="335.4" stroke-width="0.9"/>
<line x1="194.4" y1="284.7" x2="199.2" y2="284.7" stroke-width="0.9"/>
<line x1="336.3" y1="284.7" x2="331.5" y2="284.7" stroke-width="0.9"/>
<line x1="194.4" y1="234" x2="199.2" y2="234" stroke-width="0.9"/>
<line x1="336.3" y1="234" x2="331.5" y2="234" stroke-width="0.9"/>
<rect x="52.5" y="206.6" width="141.9" height="128.8" stroke-width="1.1"/>
<rect x="194.4" y="206.6" width="141.9" height="128.8" stroke-width="1.1"/>
</g>
<text x="47.9" y="339.4" font-family="'DejaVu Sans', 'Liberation Sans', sans-serif" font-size="10" text-anchor="end" fill="#000" stroke="#000" stroke-width="0.12">0</text>
<text x="47.9" y="288.7" font-family="'DejaVu Sans', 'Liberation Sans', sans-serif" font-size="10" text-anchor="end" fill="#000" stroke="#000" stroke-width="0.12">1000</text>
<text x="47.9" y="238" font-family="'DejaVu Sans', 'Liberation Sans', sans-serif" font-size="10" text-anchor="end" fill="#000" stroke="#000" stroke-width="0.12">2000</text>
<text transform="translate(11.9,271.4) rotate(-90)" font-family="'Liberation Serif', 'DejaVu Serif', serif" font-size="14" text-anchor="middle" textLength="40.5" lengthAdjust="spacing"><tspan font-style="italic">t</tspan> [<tspan font-style="italic">ω</tspan><tspan font-size="10" dy="3">pe</tspan><tspan font-size="10" dy="-9.2" dx="-9.6"><tspan font-family="DejaVu Sans, sans-serif" font-size="9">−</tspan>1</tspan><tspan dy="6.2">]</tspan></text>
<g stroke="#000" fill="none">
<line x1="62.63" y1="473.5" x2="62.63" y2="470.8" stroke-width="0.72"/>
<line x1="62.63" y1="344.7" x2="62.63" y2="347.4" stroke-width="0.72"/>
<line x1="72.77" y1="473.5" x2="72.77" y2="470.8" stroke-width="0.72"/>
<line x1="72.77" y1="344.7" x2="72.77" y2="347.4" stroke-width="0.72"/>
<line x1="82.91" y1="473.5" x2="82.91" y2="470.8" stroke-width="0.72"/>
<line x1="82.91" y1="344.7" x2="82.91" y2="347.4" stroke-width="0.72"/>
<line x1="103.17" y1="473.5" x2="103.17" y2="470.8" stroke-width="0.72"/>
<line x1="103.17" y1="344.7" x2="103.17" y2="347.4" stroke-width="0.72"/>
<line x1="113.31" y1="473.5" x2="113.31" y2="470.8" stroke-width="0.72"/>
<line x1="113.31" y1="344.7" x2="113.31" y2="347.4" stroke-width="0.72"/>
<line x1="123.44" y1="473.5" x2="123.44" y2="470.8" stroke-width="0.72"/>
<line x1="123.44" y1="344.7" x2="123.44" y2="347.4" stroke-width="0.72"/>
<line x1="143.71" y1="473.5" x2="143.71" y2="470.8" stroke-width="0.72"/>
<line x1="143.71" y1="344.7" x2="143.71" y2="347.4" stroke-width="0.72"/>
<line x1="153.85" y1="473.5" x2="153.85" y2="470.8" stroke-width="0.72"/>
<line x1="153.85" y1="344.7" x2="153.85" y2="347.4" stroke-width="0.72"/>
<line x1="163.99" y1="473.5" x2="163.99" y2="470.8" stroke-width="0.72"/>
<line x1="163.99" y1="344.7" x2="163.99" y2="347.4" stroke-width="0.72"/>
<line x1="184.25" y1="473.5" x2="184.25" y2="470.8" stroke-width="0.72"/>
<line x1="184.25" y1="344.7" x2="184.25" y2="347.4" stroke-width="0.72"/>
<line x1="194.39" y1="473.5" x2="194.39" y2="470.8" stroke-width="0.72"/>
<line x1="194.39" y1="344.7" x2="194.39" y2="347.4" stroke-width="0.72"/>
<line x1="52.5" y1="473.5" x2="52.5" y2="468.7" stroke-width="0.9"/>
<line x1="52.5" y1="344.7" x2="52.5" y2="349.5" stroke-width="0.9"/>
<line x1="93.04" y1="473.5" x2="93.04" y2="468.7" stroke-width="0.9"/>
<line x1="93.04" y1="344.7" x2="93.04" y2="349.5" stroke-width="0.9"/>
<line x1="133.58" y1="473.5" x2="133.58" y2="468.7" stroke-width="0.9"/>
<line x1="133.58" y1="344.7" x2="133.58" y2="349.5" stroke-width="0.9"/>
<line x1="174.12" y1="473.5" x2="174.12" y2="468.7" stroke-width="0.9"/>
<line x1="174.12" y1="344.7" x2="174.12" y2="349.5" stroke-width="0.9"/>
<line x1="52.5" y1="463.36" x2="55.2" y2="463.36" stroke-width="0.72"/>
<line x1="194.4" y1="463.36" x2="191.7" y2="463.36" stroke-width="0.72"/>
<line x1="52.5" y1="453.22" x2="55.2" y2="453.22" stroke-width="0.72"/>
<line x1="194.4" y1="453.22" x2="191.7" y2="453.22" stroke-width="0.72"/>
<line x1="52.5" y1="443.08" x2="55.2" y2="443.08" stroke-width="0.72"/>
<line x1="194.4" y1="443.08" x2="191.7" y2="443.08" stroke-width="0.72"/>
<line x1="52.5" y1="432.94" x2="55.2" y2="432.94" stroke-width="0.72"/>
<line x1="194.4" y1="432.94" x2="191.7" y2="432.94" stroke-width="0.72"/>
<line x1="52.5" y1="412.66" x2="55.2" y2="412.66" stroke-width="0.72"/>
<line x1="194.4" y1="412.66" x2="191.7" y2="412.66" stroke-width="0.72"/>
<line x1="52.5" y1="402.52" x2="55.2" y2="402.52" stroke-width="0.72"/>
<line x1="194.4" y1="402.52" x2="191.7" y2="402.52" stroke-width="0.72"/>
<line x1="52.5" y1="392.38" x2="55.2" y2="392.38" stroke-width="0.72"/>
<line x1="194.4" y1="392.38" x2="191.7" y2="392.38" stroke-width="0.72"/>
<line x1="52.5" y1="382.24" x2="55.2" y2="382.24" stroke-width="0.72"/>
<line x1="194.4" y1="382.24" x2="191.7" y2="382.24" stroke-width="0.72"/>
<line x1="52.5" y1="361.96" x2="55.2" y2="361.96" stroke-width="0.72"/>
<line x1="194.4" y1="361.96" x2="191.7" y2="361.96" stroke-width="0.72"/>
<line x1="52.5" y1="351.82" x2="55.2" y2="351.82" stroke-width="0.72"/>
<line x1="194.4" y1="351.82" x2="191.7" y2="351.82" stroke-width="0.72"/>
<line x1="52.5" y1="473.5" x2="57.3" y2="473.5" stroke-width="0.9"/>
<line x1="194.4" y1="473.5" x2="189.6" y2="473.5" stroke-width="0.9"/>
<line x1="52.5" y1="422.8" x2="57.3" y2="422.8" stroke-width="0.9"/>
<line x1="194.4" y1="422.8" x2="189.6" y2="422.8" stroke-width="0.9"/>
<line x1="52.5" y1="372.1" x2="57.3" y2="372.1" stroke-width="0.9"/>
<line x1="194.4" y1="372.1" x2="189.6" y2="372.1" stroke-width="0.9"/>
<line x1="203" y1="473.5" x2="203" y2="470.8" stroke-width="0.72"/>
<line x1="203" y1="344.7" x2="203" y2="347.4" stroke-width="0.72"/>
<line x1="211.6" y1="473.5" x2="211.6" y2="470.8" stroke-width="0.72"/>
<line x1="211.6" y1="344.7" x2="211.6" y2="347.4" stroke-width="0.72"/>
<line x1="220.2" y1="473.5" x2="220.2" y2="470.8" stroke-width="0.72"/>
<line x1="220.2" y1="344.7" x2="220.2" y2="347.4" stroke-width="0.72"/>
<line x1="228.8" y1="473.5" x2="228.8" y2="470.8" stroke-width="0.72"/>
<line x1="228.8" y1="344.7" x2="228.8" y2="347.4" stroke-width="0.72"/>
<line x1="246" y1="473.5" x2="246" y2="470.8" stroke-width="0.72"/>
<line x1="246" y1="344.7" x2="246" y2="347.4" stroke-width="0.72"/>
<line x1="254.6" y1="473.5" x2="254.6" y2="470.8" stroke-width="0.72"/>
<line x1="254.6" y1="344.7" x2="254.6" y2="347.4" stroke-width="0.72"/>
<line x1="263.2" y1="473.5" x2="263.2" y2="470.8" stroke-width="0.72"/>
<line x1="263.2" y1="344.7" x2="263.2" y2="347.4" stroke-width="0.72"/>
<line x1="271.8" y1="473.5" x2="271.8" y2="470.8" stroke-width="0.72"/>
<line x1="271.8" y1="344.7" x2="271.8" y2="347.4" stroke-width="0.72"/>
<line x1="289" y1="473.5" x2="289" y2="470.8" stroke-width="0.72"/>
<line x1="289" y1="344.7" x2="289" y2="347.4" stroke-width="0.72"/>
<line x1="297.6" y1="473.5" x2="297.6" y2="470.8" stroke-width="0.72"/>
<line x1="297.6" y1="344.7" x2="297.6" y2="347.4" stroke-width="0.72"/>
<line x1="306.2" y1="473.5" x2="306.2" y2="470.8" stroke-width="0.72"/>
<line x1="306.2" y1="344.7" x2="306.2" y2="347.4" stroke-width="0.72"/>
<line x1="314.8" y1="473.5" x2="314.8" y2="470.8" stroke-width="0.72"/>
<line x1="314.8" y1="344.7" x2="314.8" y2="347.4" stroke-width="0.72"/>
<line x1="332" y1="473.5" x2="332" y2="470.8" stroke-width="0.72"/>
<line x1="332" y1="344.7" x2="332" y2="347.4" stroke-width="0.72"/>
<line x1="194.4" y1="473.5" x2="194.4" y2="468.7" stroke-width="0.9"/>
<line x1="194.4" y1="344.7" x2="194.4" y2="349.5" stroke-width="0.9"/>
<line x1="237.4" y1="473.5" x2="237.4" y2="468.7" stroke-width="0.9"/>
<line x1="237.4" y1="344.7" x2="237.4" y2="349.5" stroke-width="0.9"/>
<line x1="280.4" y1="473.5" x2="280.4" y2="468.7" stroke-width="0.9"/>
<line x1="280.4" y1="344.7" x2="280.4" y2="349.5" stroke-width="0.9"/>
<line x1="323.4" y1="473.5" x2="323.4" y2="468.7" stroke-width="0.9"/>
<line x1="323.4" y1="344.7" x2="323.4" y2="349.5" stroke-width="0.9"/>
<line x1="194.4" y1="463.36" x2="197.1" y2="463.36" stroke-width="0.72"/>
<line x1="336.3" y1="463.36" x2="333.6" y2="463.36" stroke-width="0.72"/>
<line x1="194.4" y1="453.22" x2="197.1" y2="453.22" stroke-width="0.72"/>
<line x1="336.3" y1="453.22" x2="333.6" y2="453.22" stroke-width="0.72"/>
<line x1="194.4" y1="443.08" x2="197.1" y2="443.08" stroke-width="0.72"/>
<line x1="336.3" y1="443.08" x2="333.6" y2="443.08" stroke-width="0.72"/>
<line x1="194.4" y1="432.94" x2="197.1" y2="432.94" stroke-width="0.72"/>
<line x1="336.3" y1="432.94" x2="333.6" y2="432.94" stroke-width="0.72"/>
<line x1="194.4" y1="412.66" x2="197.1" y2="412.66" stroke-width="0.72"/>
<line x1="336.3" y1="412.66" x2="333.6" y2="412.66" stroke-width="0.72"/>
<line x1="194.4" y1="402.52" x2="197.1" y2="402.52" stroke-width="0.72"/>
<line x1="336.3" y1="402.52" x2="333.6" y2="402.52" stroke-width="0.72"/>
<line x1="194.4" y1="392.38" x2="197.1" y2="392.38" stroke-width="0.72"/>
<line x1="336.3" y1="392.38" x2="333.6" y2="392.38" stroke-width="0.72"/>
<line x1="194.4" y1="382.24" x2="197.1" y2="382.24" stroke-width="0.72"/>
<line x1="336.3" y1="382.24" x2="333.6" y2="382.24" stroke-width="0.72"/>
<line x1="194.4" y1="361.96" x2="197.1" y2="361.96" stroke-width="0.72"/>
<line x1="336.3" y1="361.96" x2="333.6" y2="361.96" stroke-width="0.72"/>
<line x1="194.4" y1="351.82" x2="197.1" y2="351.82" stroke-width="0.72"/>
<line x1="336.3" y1="351.82" x2="333.6" y2="351.82" stroke-width="0.72"/>
<line x1="194.4" y1="473.5" x2="199.2" y2="473.5" stroke-width="0.9"/>
<line x1="336.3" y1="473.5" x2="331.5" y2="473.5" stroke-width="0.9"/>
<line x1="194.4" y1="422.8" x2="199.2" y2="422.8" stroke-width="0.9"/>
<line x1="336.3" y1="422.8" x2="331.5" y2="422.8" stroke-width="0.9"/>
<line x1="194.4" y1="372.1" x2="199.2" y2="372.1" stroke-width="0.9"/>
<line x1="336.3" y1="372.1" x2="331.5" y2="372.1" stroke-width="0.9"/>
<rect x="52.5" y="344.7" width="141.9" height="128.8" stroke-width="1.1"/>
<rect x="194.4" y="344.7" width="141.9" height="128.8" stroke-width="1.1"/>
</g>
<text x="47.9" y="477.5" font-family="'DejaVu Sans', 'Liberation Sans', sans-serif" font-size="10" text-anchor="end" fill="#000" stroke="#000" stroke-width="0.12">0</text>
<text x="47.9" y="426.8" font-family="'DejaVu Sans', 'Liberation Sans', sans-serif" font-size="10" text-anchor="end" fill="#000" stroke="#000" stroke-width="0.12">1000</text>
<text x="47.9" y="376.1" font-family="'DejaVu Sans', 'Liberation Sans', sans-serif" font-size="10" text-anchor="end" fill="#000" stroke="#000" stroke-width="0.12">2000</text>
<text transform="translate(11.9,409.5) rotate(-90)" font-family="'Liberation Serif', 'DejaVu Serif', serif" font-size="14" text-anchor="middle" textLength="40.5" lengthAdjust="spacing"><tspan font-style="italic">t</tspan> [<tspan font-style="italic">ω</tspan><tspan font-size="10" dy="3">pe</tspan><tspan font-size="10" dy="-9.2" dx="-9.6"><tspan font-family="DejaVu Sans, sans-serif" font-size="9">−</tspan>1</tspan><tspan dy="6.2">]</tspan></text>
<text transform="translate(59.2,224.8) scale(0.9,1)" font-family="'DejaVu Sans', 'Liberation Sans', sans-serif" font-size="12" fill="#222" stroke="#222" stroke-width="0.35">(b)</text>
<text transform="translate(59.2,362.9) scale(0.9,1)" font-family="'DejaVu Sans', 'Liberation Sans', sans-serif" font-size="12" fill="#222" stroke="#222" stroke-width="0.35">(c)</text>
<text x="52.7" y="487.4" font-family="'DejaVu Sans', 'Liberation Sans', sans-serif" font-size="10" text-anchor="middle" stroke="#000" stroke-width="0.12">200</text>
<text x="93.24" y="487.4" font-family="'DejaVu Sans', 'Liberation Sans', sans-serif" font-size="10" text-anchor="middle" stroke="#000" stroke-width="0.12">400</text>
<text x="133.78" y="487.4" font-family="'DejaVu Sans', 'Liberation Sans', sans-serif" font-size="10" text-anchor="middle" stroke="#000" stroke-width="0.12">600</text>
<text x="174.32" y="487.4" font-family="'DejaVu Sans', 'Liberation Sans', sans-serif" font-size="10" text-anchor="middle" stroke="#000" stroke-width="0.12">800</text>
<text x="237.6" y="487.4" font-family="'DejaVu Sans', 'Liberation Sans', sans-serif" font-size="10" text-anchor="middle" stroke="#000" stroke-width="0.12">100</text>
<text x="280.6" y="487.4" font-family="'DejaVu Sans', 'Liberation Sans', sans-serif" font-size="10" text-anchor="middle" stroke="#000" stroke-width="0.12">200</text>
<text x="323.6" y="487.4" font-family="'DejaVu Sans', 'Liberation Sans', sans-serif" font-size="10" text-anchor="middle" stroke="#000" stroke-width="0.12">300</text>
<text y="504.6" font-family="'Liberation Serif', 'DejaVu Serif', serif" font-size="14"><tspan x="107.4" font-style="italic" font-size="14.5">x</tspan><tspan x="120.5">[</tspan><tspan font-style="italic">d</tspan><tspan font-size="10" dy="2.6">e</tspan><tspan dy="-2.6" x="135.9">]</tspan></text>
<text transform="translate(266,504.6) scale(1.4,1)" font-family="'Liberation Serif', 'DejaVu Serif', serif" font-size="14" font-style="italic" text-anchor="middle">γ</text>
<defs><filter id="turb" x="0" y="0" width="100%" height="100%"><feTurbulence type="fractalNoise" baseFrequency="0.065" numOctaves="2" seed="9"/><feColorMatrix type="matrix" values="0 0 0 0 0.78  0 0 0 0 0.78  0 0 0 0 0.78  3.4 0 0 0 -1.35"/></filter></defs>
</svg>
</body></html>
